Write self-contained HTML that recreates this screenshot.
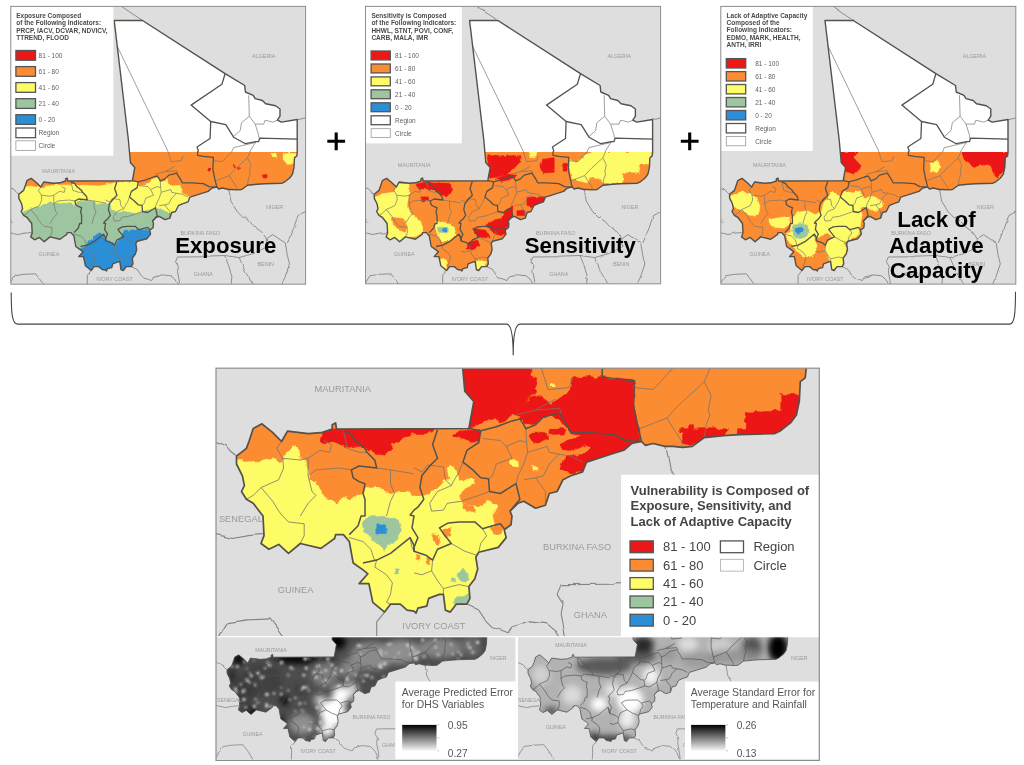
<!DOCTYPE html><html><head><meta charset="utf-8"><title>Vulnerability</title>
<style>html,body{margin:0;padding:0;background:#fff}svg{display:block;font-family:"Liberation Sans", Arial, sans-serif;filter:blur(0.4px)}</style></head><body>
<svg width="1024" height="765" viewBox="0 0 1024 765">
<defs><linearGradient id="bw" x1="0" y1="0" x2="0" y2="1"><stop offset="0" stop-color="#000"/><stop offset="1" stop-color="#fff"/></linearGradient></defs>
<defs><filter id="rag1" x="-5%" y="-5%" width="110%" height="110%"><feTurbulence type="fractalNoise" baseFrequency="0.22" numOctaves="2" seed="3" result="n"/><feDisplacementMap in="SourceGraphic" in2="n" scale="3.2" xChannelSelector="R" yChannelSelector="G"/></filter>
<filter id="rag2" x="-5%" y="-5%" width="110%" height="110%"><feTurbulence type="fractalNoise" baseFrequency="0.13" numOctaves="2" seed="7" result="n"/><feDisplacementMap in="SourceGraphic" in2="n" scale="6" xChannelSelector="R" yChannelSelector="G"/></filter></defs>
<defs><filter id="rag1n" x="-5%" y="-5%" width="110%" height="110%"><feTurbulence type="fractalNoise" baseFrequency="0.16" numOctaves="1" seed="11" result="n"/><feDisplacementMap in="SourceGraphic" in2="n" scale="2.6" xChannelSelector="R" yChannelSelector="G"/></filter>
<filter id="rag2n" x="-5%" y="-5%" width="110%" height="110%"><feTurbulence type="fractalNoise" baseFrequency="0.075" numOctaves="1" seed="13" result="n"/><feDisplacementMap in="SourceGraphic" in2="n" scale="5" xChannelSelector="R" yChannelSelector="G"/></filter></defs>
<rect width="1024" height="765" fill="#fff"/>
<clipPath id="ft0"><rect x="10.8" y="6.4" width="294.8" height="277.8"/></clipPath>
<clipPath id="mt0"><polygon points="132.4,180.7 134.8,167.5 130.4,162.5 128.4,140.0 114.2,20.5 142.5,20.5 225.1,73.7 244.7,85.5 245.4,92.0 253.2,95.3 255.2,98.6 262.4,100.5 265.7,103.8 275.5,105.8 280.0,109.0 280.0,116.2 277.4,120.2 281.4,122.1 297.2,119.5 297.2,150.0 297.3,151.3 296.8,155.9 294.5,157.8 294.0,167.4 292.5,174.1 289.7,178.0 284.9,181.8 282.0,183.2 264.7,183.7 257.0,184.2 247.5,185.2 241.7,189.5 236.9,189.9 232.1,189.5 228.3,189.5 222.5,188.0 218.7,189.0 216.8,187.1 212.0,188.0 208.1,191.4 203.4,192.8 189.9,197.1 188.0,201.9 182.3,203.8 178.4,205.7 175.5,211.5 171.7,212.5 169.8,218.2 165.0,219.7 159.2,216.3 156.4,217.3 152.5,221.1 153.5,223.5 153.0,227.8 149.7,230.2 150.6,234.1 146.8,238.8 137.2,241.2 135.8,243.6 136.7,249.4 135.3,254.2 132.4,258.0 132.9,263.8 131.4,266.6 126.2,266.6 123.3,270.5 120.9,269.5 119.9,261.8 118.0,261.8 112.7,263.8 111.8,267.6 107.5,268.6 106.5,271.0 105.6,270.0 102.2,269.5 98.9,266.6 94.1,266.6 91.2,270.5 85.4,265.7 83.5,256.6 78.7,256.6 83.0,251.8 80.6,249.9 75.8,246.5 73.9,236.0 71.0,232.6 67.2,232.6 66.7,234.5 60.0,239.3 50.0,236.9 44.2,241.7 39.4,237.4 34.6,239.8 30.7,236.9 32.2,233.1 31.7,223.5 26.9,217.3 23.6,215.3 21.2,211.5 22.6,208.6 21.6,203.8 18.8,198.1 18.8,194.3 23.6,190.4 25.0,186.6 26.9,180.7 31.2,178.4 36.5,182.8 40.8,187.1 43.7,182.0 53.8,183.2 60.0,182.8 65.6,181.0 65.6,178.9 67.2,178.0 67.7,181.0"/></clipPath>
<g clip-path="url(#ft0)">
<rect x="10.8" y="6.4" width="294.8" height="277.8" fill="#dedede"/>
<polygon points="132.4,180.7 134.8,167.5 130.4,162.5 128.4,140.0 114.2,20.5 142.5,20.5 225.1,73.7 244.7,85.5 245.4,92.0 253.2,95.3 255.2,98.6 262.4,100.5 265.7,103.8 275.5,105.8 280.0,109.0 280.0,116.2 277.4,120.2 281.4,122.1 297.2,119.5 297.2,150.0 297.3,151.3 296.8,155.9 294.5,157.8 294.0,167.4 292.5,174.1 289.7,178.0 284.9,181.8 282.0,183.2 264.7,183.7 257.0,184.2 247.5,185.2 241.7,189.5 236.9,189.9 232.1,189.5 228.3,189.5 222.5,188.0 218.7,189.0 216.8,187.1 212.0,188.0 208.1,191.4 203.4,192.8 189.9,197.1 188.0,201.9 182.3,203.8 178.4,205.7 175.5,211.5 171.7,212.5 169.8,218.2 165.0,219.7 159.2,216.3 156.4,217.3 152.5,221.1 153.5,223.5 153.0,227.8 149.7,230.2 150.6,234.1 146.8,238.8 137.2,241.2 135.8,243.6 136.7,249.4 135.3,254.2 132.4,258.0 132.9,263.8 131.4,266.6 126.2,266.6 123.3,270.5 120.9,269.5 119.9,261.8 118.0,261.8 112.7,263.8 111.8,267.6 107.5,268.6 106.5,271.0 105.6,270.0 102.2,269.5 98.9,266.6 94.1,266.6 91.2,270.5 85.4,265.7 83.5,256.6 78.7,256.6 83.0,251.8 80.6,249.9 75.8,246.5 73.9,236.0 71.0,232.6 67.2,232.6 66.7,234.5 60.0,239.3 50.0,236.9 44.2,241.7 39.4,237.4 34.6,239.8 30.7,236.9 32.2,233.1 31.7,223.5 26.9,217.3 23.6,215.3 21.2,211.5 22.6,208.6 21.6,203.8 18.8,198.1 18.8,194.3 23.6,190.4 25.0,186.6 26.9,180.7 31.2,178.4 36.5,182.8 40.8,187.1 43.7,182.0 53.8,183.2 60.0,182.8 65.6,181.0 65.6,178.9 67.2,178.0 67.7,181.0" fill="#fff" />
<clipPath id="ct0"><rect x="10.8" y="152.0" width="294.8" height="132.2"/></clipPath>
<g clip-path="url(#ct0)"><g clip-path="url(#mt0)">
<rect x="10.8" y="152.0" width="294.8" height="132.2" fill="#fb8c33"/>
<g filter="url(#rag1)">
<rect x="-9.2" y="132.0" width="334.8" height="172.2" fill="#fb8c33"/>
<polygon points="10.0,192.0 18.0,190.0 24.0,187.0 31.0,186.0 40.0,188.0 48.0,186.0 56.0,185.0 66.0,185.0 80.0,185.0 100.0,186.0 110.0,184.0 117.0,182.2 132.0,181.5 138.2,182.2 139.2,186.1 146.1,185.1 151.0,181.2 154.9,177.3 158.8,179.2 160.8,183.1 166.7,179.2 168.6,183.1 172.5,186.1 178.4,185.1 182.4,188.0 181.4,192.9 188.2,195.9 195.0,199.0 200.0,300.0 -0.0,300.0 -0.0,190.0" fill="#fdfb66" stroke="#fdfb66" stroke-width="0.5"/>
<polygon points="10.0,214.0 22.7,213.1 29.6,209.2 39.4,206.3 49.2,202.8 59.0,203.3 68.8,203.3 74.7,205.3 78.6,201.4 93.3,201.4 98.2,203.8 110.0,203.3 110.9,209.5 117.2,212.6 125.5,211.6 136.0,213.7 146.4,210.5 156.9,208.5 165.3,210.5 170.5,213.7 180.0,214.0 200.0,300.0 -0.0,300.0 -0.0,190.0" fill="#9dc59f" stroke="#9dc59f" stroke-width="0.5"/>
<polygon points="78.0,250.0 83.7,247.2 92.0,238.8 98.3,232.5 103.6,236.7 108.8,240.9 116.1,244.0 121.3,236.7 125.5,230.4 136.0,229.4 149.6,230.4 160.0,228.0 200.0,300.0 60.0,300.0" fill="#2c8fd6" stroke="#2c8fd6" stroke-width="0.5"/>
<polygon points="283.2,153.4 297.4,153.4 297.4,157.2 293.6,163.5 287.4,164.5 283.2,159.3" fill="#fdfb66" stroke="#fdfb66" stroke-width="0.5"/>
<polygon points="270.6,153.4 275.9,153.4 276.9,158.2 273.8,157.2" fill="#fdfb66" stroke="#fdfb66" stroke-width="0.5"/>
<polygon points="262.3,175.0 266.4,174.4 267.5,177.7 263.3,178.1" fill="#ec1717" stroke="#ec1717" stroke-width="0.5"/>
<polygon points="233.0,165.6 235.1,165.6 235.1,167.7 233.0,167.7" fill="#ec1717" stroke="#ec1717" stroke-width="0.5"/>
<polygon points="206.8,168.7 210.0,168.3 210.0,170.2 206.8,170.6" fill="#ec1717" stroke="#ec1717" stroke-width="0.5"/>
<polygon points="237.8,167.7 240.3,167.7 240.3,169.3 237.8,169.3" fill="#ec1717" stroke="#ec1717" stroke-width="0.5"/>
</g></g></g>
<g filter="url(#rag1n)">
<polyline points="4.9,183.7 8.7,187.1 13.5,189.0 16.4,192.3 18.8,194.3" fill="none" stroke="#858585" stroke-width="0.9" stroke-linejoin="round" />
<polyline points="2.0,232.6 8.7,232.6 13.5,233.6 17.3,234.5 24.0,233.1 31.7,232.6" fill="none" stroke="#858585" stroke-width="0.9" stroke-linejoin="round" />
<polyline points="3.9,292.5 10.6,282.0 14.5,275.8 24.0,274.3 35.6,273.8 41.8,282.0 48.0,292.5" fill="none" stroke="#858585" stroke-width="0.9" stroke-linejoin="round" />
<polyline points="86.9,292.5 87.3,282.0 87.3,275.3 91.2,270.5" fill="none" stroke="#858585" stroke-width="0.9" stroke-linejoin="round" />
<polyline points="131.4,266.6 137.2,269.5 141.0,275.3 143.9,278.2 147.8,279.1 151.6,280.6 153.5,277.2 162.1,274.8 170.7,275.8 174.6,279.1 176.5,282.0 179.9,289.7" fill="none" stroke="#858585" stroke-width="0.9" stroke-linejoin="round" />
<polyline points="180.3,290.6 179.4,282.0 177.5,271.4 178.4,266.6 175.5,261.8 177.5,257.0 203.4,256.8" fill="none" stroke="#858585" stroke-width="0.9" stroke-linejoin="round" />
<polyline points="228.8,189.6 230.9,201.1 237.2,211.6 243.4,217.9 245.5,216.8 253.9,226.2 262.3,232.5 266.4,238.8" fill="none" stroke="#858585" stroke-width="0.9" stroke-linejoin="round" />
<polyline points="266.4,238.8 272.7,234.6 285.3,243.0 287.4,255.5 289.5,263.9 285.3,276.4 281.1,285.9" fill="none" stroke="#858585" stroke-width="0.9" stroke-linejoin="round" />
<polyline points="307.2,210.5 297.8,215.8 293.6,228.3 287.4,243.0" fill="none" stroke="#858585" stroke-width="0.9" stroke-linejoin="round" />
<polyline points="266.4,238.8 266.4,247.2 253.9,253.4 239.2,257.6" fill="none" stroke="#858585" stroke-width="0.9" stroke-linejoin="round" />
<polyline points="203.3,256.2 224.6,255.5 239.2,257.6 245.5,272.3 253.9,285.9" fill="none" stroke="#858585" stroke-width="0.9" stroke-linejoin="round" />
<polyline points="224.6,255.5 228.8,266.0 231.9,276.4 230.9,285.9" fill="none" stroke="#858585" stroke-width="0.9" stroke-linejoin="round" />
<polyline points="121.6,6.5 142.5,20.5" fill="none" stroke="#858585" stroke-width="0.9" stroke-linejoin="round" />
<polyline points="297.4,119.7 307.1,117.6" fill="none" stroke="#858585" stroke-width="0.9" stroke-linejoin="round" />
</g>
<polyline points="40.8,187.1 38.4,190.4 41.3,195.2 41.8,200.0 39.4,205.7 30.8,209.6 26.9,213.4 23.6,215.3" fill="none" stroke="#77756f" stroke-width="0.7" stroke-linejoin="round" />
<polyline points="30.8,209.6 36.5,216.3 39.4,221.1 41.3,223.5" fill="none" stroke="#77756f" stroke-width="0.7" stroke-linejoin="round" />
<polyline points="41.3,195.2 50.0,196.2 53.8,195.2 59.5,191.4 64.3,192.3 65.3,188.5 61.4,186.6" fill="none" stroke="#77756f" stroke-width="0.7" stroke-linejoin="round" />
<polyline points="53.8,195.2 53.8,203.8 57.6,201.0 69.1,200.0 74.9,201.0" fill="none" stroke="#77756f" stroke-width="0.7" stroke-linejoin="round" />
<polyline points="53.8,203.8 55.7,211.5 57.6,213.4 53.8,217.3 50.0,223.5" fill="none" stroke="#77756f" stroke-width="0.7" stroke-linejoin="round" />
<polyline points="87.3,200.0 94.1,201.0 105.6,202.9" fill="none" stroke="#77756f" stroke-width="0.7" stroke-linejoin="round" />
<polyline points="94.1,201.0 94.1,207.7 96.0,212.5 94.1,216.3 92.1,223.5" fill="none" stroke="#77756f" stroke-width="0.7" stroke-linejoin="round" />
<polyline points="71.0,181.8 72.9,190.4 78.7,192.3 82.5,192.3" fill="none" stroke="#77756f" stroke-width="0.7" stroke-linejoin="round" />
<polyline points="41.3,223.5 44.2,226.4 51.9,227.3 51.9,233.1 50.0,236.9" fill="none" stroke="#77756f" stroke-width="0.7" stroke-linejoin="round" />
<polyline points="73.9,234.1 80.6,236.0 84.5,239.8 86.4,245.5" fill="none" stroke="#77756f" stroke-width="0.7" stroke-linejoin="round" />
<polyline points="87.3,245.1 86.4,248.4 92.1,252.2 95.0,256.1 94.1,261.8 92.1,265.7 94.1,266.6" fill="none" stroke="#77756f" stroke-width="0.7" stroke-linejoin="round" />
<polyline points="103.6,234.1 104.6,238.8 105.6,240.8" fill="none" stroke="#77756f" stroke-width="0.7" stroke-linejoin="round" />
<polyline points="105.6,251.3 109.4,252.2 114.2,250.3 114.6,245.1" fill="none" stroke="#77756f" stroke-width="0.7" stroke-linejoin="round" />
<polyline points="114.2,250.3 117.0,255.1 119.9,258.9 119.9,261.8" fill="none" stroke="#77756f" stroke-width="0.7" stroke-linejoin="round" />
<polyline points="119.9,258.9 127.6,257.0 132.4,258.0" fill="none" stroke="#77756f" stroke-width="0.7" stroke-linejoin="round" />
<polyline points="123.8,236.9 130.5,240.8 136.2,242.7" fill="none" stroke="#77756f" stroke-width="0.7" stroke-linejoin="round" />
<polyline points="139.1,229.7 141.0,233.1 138.2,236.9 137.2,241.2" fill="none" stroke="#77756f" stroke-width="0.7" stroke-linejoin="round" />
<polyline points="105.6,200.0 109.4,201.9 112.3,198.6 119.9,199.5 120.9,205.7 123.8,208.6" fill="none" stroke="#77756f" stroke-width="0.7" stroke-linejoin="round" />
<polyline points="129.5,197.1 127.6,201.9 124.7,206.7 123.8,208.6 117.0,211.5 113.2,217.3 114.2,221.1 119.9,220.6 121.8,217.3 128.6,216.3 137.2,213.4 142.5,211.5" fill="none" stroke="#77756f" stroke-width="0.7" stroke-linejoin="round" />
<polyline points="139.1,185.6 147.8,186.6 150.6,189.5 157.3,186.6 160.7,187.6 160.2,180.8" fill="none" stroke="#77756f" stroke-width="0.7" stroke-linejoin="round" />
<polyline points="150.6,189.5 153.5,195.2 145.8,198.1 143.9,203.8 142.0,205.3" fill="none" stroke="#77756f" stroke-width="0.7" stroke-linejoin="round" />
<polyline points="160.7,187.6 161.2,192.3 159.2,198.1 156.4,203.8 155.4,207.7" fill="none" stroke="#77756f" stroke-width="0.7" stroke-linejoin="round" />
<polyline points="161.2,192.3 170.7,189.5 171.7,192.3 176.5,193.3 171.7,198.1 168.8,203.8 165.0,204.8 166.9,207.7 169.8,211.5 169.8,218.2" fill="none" stroke="#77756f" stroke-width="0.7" stroke-linejoin="round" />
<polyline points="159.2,205.7 165.0,204.8" fill="none" stroke="#77756f" stroke-width="0.7" stroke-linejoin="round" />
<polyline points="176.5,193.3 182.3,194.3 188.0,197.1" fill="none" stroke="#77756f" stroke-width="0.7" stroke-linejoin="round" />
<polyline points="165.0,171.7 176.5,170.8 177.5,172.7 176.5,173.2" fill="none" stroke="#77756f" stroke-width="0.7" stroke-linejoin="round" />
<polyline points="155.4,174.1 165.0,171.7 174.6,166.4" fill="none" stroke="#77756f" stroke-width="0.7" stroke-linejoin="round" />
<polyline points="167.9,151.3 171.1,161.7 181.3,160.7 183.2,155.9" fill="none" stroke="#77756f" stroke-width="0.7" stroke-linejoin="round" />
<polyline points="215.8,180.8 229.2,175.6 235.0,169.3 247.5,157.8 250.3,151.3" fill="none" stroke="#77756f" stroke-width="0.7" stroke-linejoin="round" />
<polyline points="213.4,160.7 222.5,161.6 232.1,151.3" fill="none" stroke="#77756f" stroke-width="0.7" stroke-linejoin="round" />
<polyline points="247.5,157.8 250.8,164.5 249.4,172.2 250.3,174.1 248.4,178.9 247.5,185.2" fill="none" stroke="#77756f" stroke-width="0.7" stroke-linejoin="round" />
<polyline points="229.2,175.6 233.1,181.8 236.9,187.6 236.4,189.9" fill="none" stroke="#77756f" stroke-width="0.7" stroke-linejoin="round" />
<polyline points="117.3,46.4 167.9,151.2" fill="none" stroke="#77756f" stroke-width="0.7" stroke-linejoin="round" />
<polyline points="248.7,95.3 249.3,116.2 241.5,122.8 240.2,130.6 233.6,136.5" fill="none" stroke="#77756f" stroke-width="0.7" stroke-linejoin="round" />
<polyline points="249.3,116.2 255.2,124.1 263.7,124.1 265.0,120.2 272.9,122.1 277.4,120.2" fill="none" stroke="#77756f" stroke-width="0.7" stroke-linejoin="round" />
<polyline points="255.2,124.1 258.5,134.5 259.1,138.5" fill="none" stroke="#77756f" stroke-width="0.7" stroke-linejoin="round" />
<polyline points="255.9,141.7 250.6,150.2 249.7,151.7" fill="none" stroke="#77756f" stroke-width="0.7" stroke-linejoin="round" />
<polyline points="255.9,142.4 233.6,147.6 231.7,151.7" fill="none" stroke="#77756f" stroke-width="0.7" stroke-linejoin="round" />
<polyline points="71.0,181.8 74.9,183.7 76.8,186.6 81.6,190.4 82.5,192.3 86.4,196.2 87.3,200.0 78.7,199.0 74.9,201.0 75.8,204.8 78.7,206.7 81.6,207.7 80.6,212.5 81.6,215.3 81.6,223.5 79.7,223.5 78.2,228.3 73.9,232.6" fill="none" stroke="#55524c" stroke-width="1.3" stroke-linejoin="round" />
<polyline points="117.0,181.3 114.6,188.5 117.0,195.2 113.2,199.0 109.4,203.8 108.4,209.6 110.3,215.3 107.5,219.2 105.6,220.6 103.6,223.0 105.6,223.5 104.6,229.3 107.5,234.1 105.6,238.8 105.6,240.8" fill="none" stroke="#55524c" stroke-width="1.3" stroke-linejoin="round" />
<polyline points="80.6,246.5 87.3,245.1 94.1,241.7 103.6,234.1 105.6,237.9 105.6,240.8 111.3,242.7 114.6,245.1 117.0,239.8 123.8,236.9 119.9,232.1 118.0,229.3 122.3,226.9 127.6,226.4 135.3,226.4 139.1,229.7 143.9,228.3 147.8,227.3 150.2,230.2" fill="none" stroke="#55524c" stroke-width="1.3" stroke-linejoin="round" />
<polyline points="138.2,181.8 137.2,187.6 131.4,191.4 129.5,197.1 134.3,201.0 138.2,204.8 142.0,205.3 142.5,211.5 147.8,212.5 155.4,207.7 157.3,215.3 152.5,221.1" fill="none" stroke="#55524c" stroke-width="1.3" stroke-linejoin="round" />
<polyline points="132.6,180.7 138.2,181.8 145.8,179.9 153.5,177.0 157.3,176.0 159.2,178.9 160.2,180.8 165.0,178.9 168.8,175.1 172.7,174.1 176.5,173.2 180.3,178.9 182.3,182.8 191.9,182.8 203.4,183.7 209.1,186.6 216.8,187.1" fill="none" stroke="#55524c" stroke-width="1.3" stroke-linejoin="round" />
<polyline points="216.8,187.1 214.8,178.9 212.9,169.3 213.4,157.3 203.4,156.4 197.6,155.4 197.6,151.3" fill="none" stroke="#55524c" stroke-width="1.3" stroke-linejoin="round" />
<polyline points="225.1,73.7 221.9,84.2 191.1,105.1 210.7,121.5 225.8,124.7 233.6,137.2 245.4,143.7 255.9,141.7 258.5,141.7 259.8,138.2 297.1,139.1" fill="none" stroke="#55524c" stroke-width="1.3" stroke-linejoin="round" />
<polyline points="210.7,121.5 210.1,138.5 197.0,147.0 198.6,151.6" fill="none" stroke="#55524c" stroke-width="1.3" stroke-linejoin="round" />
<polygon points="132.4,180.7 134.8,167.5 130.4,162.5 128.4,140.0 114.2,20.5 142.5,20.5 225.1,73.7 244.7,85.5 245.4,92.0 253.2,95.3 255.2,98.6 262.4,100.5 265.7,103.8 275.5,105.8 280.0,109.0 280.0,116.2 277.4,120.2 281.4,122.1 297.2,119.5 297.2,150.0 297.3,151.3 296.8,155.9 294.5,157.8 294.0,167.4 292.5,174.1 289.7,178.0 284.9,181.8 282.0,183.2 264.7,183.7 257.0,184.2 247.5,185.2 241.7,189.5 236.9,189.9 232.1,189.5 228.3,189.5 222.5,188.0 218.7,189.0 216.8,187.1 212.0,188.0 208.1,191.4 203.4,192.8 189.9,197.1 188.0,201.9 182.3,203.8 178.4,205.7 175.5,211.5 171.7,212.5 169.8,218.2 165.0,219.7 159.2,216.3 156.4,217.3 152.5,221.1 153.5,223.5 153.0,227.8 149.7,230.2 150.6,234.1 146.8,238.8 137.2,241.2 135.8,243.6 136.7,249.4 135.3,254.2 132.4,258.0 132.9,263.8 131.4,266.6 126.2,266.6 123.3,270.5 120.9,269.5 119.9,261.8 118.0,261.8 112.7,263.8 111.8,267.6 107.5,268.6 106.5,271.0 105.6,270.0 102.2,269.5 98.9,266.6 94.1,266.6 91.2,270.5 85.4,265.7 83.5,256.6 78.7,256.6 83.0,251.8 80.6,249.9 75.8,246.5 73.9,236.0 71.0,232.6 67.2,232.6 66.7,234.5 60.0,239.3 50.0,236.9 44.2,241.7 39.4,237.4 34.6,239.8 30.7,236.9 32.2,233.1 31.7,223.5 26.9,217.3 23.6,215.3 21.2,211.5 22.6,208.6 21.6,203.8 18.8,198.1 18.8,194.3 23.6,190.4 25.0,186.6 26.9,180.7 31.2,178.4 36.5,182.8 40.8,187.1 43.7,182.0 53.8,183.2 60.0,182.8 65.6,181.0 65.6,178.9 67.2,178.0 67.7,181.0" fill="none" stroke="#555049" stroke-width="1.4" stroke-linejoin="round"/>
</g>
<g clip-path="url(#ft0)">
<text x="42.3" y="173.0" font-size="5.4" fill="#9a9a9a" font-weight="normal" text-anchor="start" >MAURITANIA</text>
<text x="252.0" y="57.5" font-size="5.4" fill="#9a9a9a" font-weight="normal" text-anchor="start" >ALGERIA</text>
<text x="266.0" y="208.7" font-size="5.4" fill="#9a9a9a" font-weight="normal" text-anchor="start" >NIGER</text>
<text x="180.5" y="234.6" font-size="5.4" fill="#9a9a9a" font-weight="normal" text-anchor="start" >BURKINA FASO</text>
<text x="38.6" y="256.3" font-size="5.4" fill="#9a9a9a" font-weight="normal" text-anchor="start" >GUINEA</text>
<text x="96.2" y="280.6" font-size="5.4" fill="#9a9a9a" font-weight="normal" text-anchor="start" >IVORY COAST</text>
<text x="193.8" y="276.2" font-size="5.4" fill="#9a9a9a" font-weight="normal" text-anchor="start" >GHANA</text>
<text x="257.5" y="265.5" font-size="5.4" fill="#9a9a9a" font-weight="normal" text-anchor="start" >BENIN</text>
<text x="-12.0" y="223.0" font-size="5.4" fill="#9a9a9a" font-weight="normal" text-anchor="start" >SENEGAL</text>
</g>
<rect x="10.8" y="6.4" width="102.6" height="149.4" fill="#fff"/>
<rect x="10.8" y="6.4" width="294.8" height="277.8" fill="none" stroke="#8c8c8c" stroke-width="1"/>
<clipPath id="ft1"><rect x="365.5" y="6.4" width="295.1" height="277.4"/></clipPath>
<clipPath id="mt1"><polygon points="487.8,180.7 490.2,167.5 485.8,162.5 483.8,140.0 469.6,20.5 497.9,20.5 580.5,73.7 600.1,85.5 600.8,92.0 608.6,95.3 610.6,98.6 617.8,100.5 621.1,103.8 630.9,105.8 635.4,109.0 635.4,116.2 632.8,120.2 636.8,122.1 652.6,119.5 652.6,150.0 652.7,151.3 652.2,155.9 649.9,157.8 649.4,167.4 647.9,174.1 645.1,178.0 640.3,181.8 637.4,183.2 620.1,183.7 612.4,184.2 602.9,185.2 597.1,189.5 592.3,189.9 587.5,189.5 583.7,189.5 577.9,188.0 574.1,189.0 572.2,187.1 567.4,188.0 563.5,191.4 558.8,192.8 545.3,197.1 543.4,201.9 537.7,203.8 533.8,205.7 530.9,211.5 527.1,212.5 525.2,218.2 520.4,219.7 514.6,216.3 511.8,217.3 507.9,221.1 508.9,223.5 508.4,227.8 505.1,230.2 506.0,234.1 502.2,238.8 492.6,241.2 491.2,243.6 492.1,249.4 490.7,254.2 487.8,258.0 488.3,263.8 486.8,266.6 481.6,266.6 478.7,270.5 476.3,269.5 475.3,261.8 473.4,261.8 468.1,263.8 467.2,267.6 462.9,268.6 461.9,271.0 461.0,270.0 457.6,269.5 454.3,266.6 449.5,266.6 446.6,270.5 440.8,265.7 438.9,256.6 434.1,256.6 438.4,251.8 436.0,249.9 431.2,246.5 429.3,236.0 426.4,232.6 422.6,232.6 422.1,234.5 415.4,239.3 405.4,236.9 399.6,241.7 394.8,237.4 390.0,239.8 386.1,236.9 387.6,233.1 387.1,223.5 382.3,217.3 379.0,215.3 376.6,211.5 378.0,208.6 377.0,203.8 374.2,198.1 374.2,194.3 379.0,190.4 380.4,186.6 382.3,180.7 386.6,178.4 391.9,182.8 396.2,187.1 399.1,182.0 409.2,183.2 415.4,182.8 421.0,181.0 421.0,178.9 422.6,178.0 423.1,181.0"/></clipPath>
<g clip-path="url(#ft1)">
<rect x="365.5" y="6.4" width="295.1" height="277.4" fill="#dedede"/>
<polygon points="487.8,180.7 490.2,167.5 485.8,162.5 483.8,140.0 469.6,20.5 497.9,20.5 580.5,73.7 600.1,85.5 600.8,92.0 608.6,95.3 610.6,98.6 617.8,100.5 621.1,103.8 630.9,105.8 635.4,109.0 635.4,116.2 632.8,120.2 636.8,122.1 652.6,119.5 652.6,150.0 652.7,151.3 652.2,155.9 649.9,157.8 649.4,167.4 647.9,174.1 645.1,178.0 640.3,181.8 637.4,183.2 620.1,183.7 612.4,184.2 602.9,185.2 597.1,189.5 592.3,189.9 587.5,189.5 583.7,189.5 577.9,188.0 574.1,189.0 572.2,187.1 567.4,188.0 563.5,191.4 558.8,192.8 545.3,197.1 543.4,201.9 537.7,203.8 533.8,205.7 530.9,211.5 527.1,212.5 525.2,218.2 520.4,219.7 514.6,216.3 511.8,217.3 507.9,221.1 508.9,223.5 508.4,227.8 505.1,230.2 506.0,234.1 502.2,238.8 492.6,241.2 491.2,243.6 492.1,249.4 490.7,254.2 487.8,258.0 488.3,263.8 486.8,266.6 481.6,266.6 478.7,270.5 476.3,269.5 475.3,261.8 473.4,261.8 468.1,263.8 467.2,267.6 462.9,268.6 461.9,271.0 461.0,270.0 457.6,269.5 454.3,266.6 449.5,266.6 446.6,270.5 440.8,265.7 438.9,256.6 434.1,256.6 438.4,251.8 436.0,249.9 431.2,246.5 429.3,236.0 426.4,232.6 422.6,232.6 422.1,234.5 415.4,239.3 405.4,236.9 399.6,241.7 394.8,237.4 390.0,239.8 386.1,236.9 387.6,233.1 387.1,223.5 382.3,217.3 379.0,215.3 376.6,211.5 378.0,208.6 377.0,203.8 374.2,198.1 374.2,194.3 379.0,190.4 380.4,186.6 382.3,180.7 386.6,178.4 391.9,182.8 396.2,187.1 399.1,182.0 409.2,183.2 415.4,182.8 421.0,181.0 421.0,178.9 422.6,178.0 423.1,181.0" fill="#fff" />
<clipPath id="ct1"><rect x="365.5" y="152.0" width="295.1" height="131.8"/></clipPath>
<g clip-path="url(#ct1)"><g clip-path="url(#mt1)">
<rect x="365.5" y="152.0" width="295.1" height="131.8" fill="#fb8c33"/>
<g filter="url(#rag1)">
<rect x="345.5" y="132.0" width="335.1" height="171.8" fill="#fb8c33"/>
<polygon points="371.8,198.8 376.7,196.9 381.6,193.9 394.3,192.0 397.3,184.1 409.0,184.1 409.0,194.9 407.1,204.7 411.0,214.5 416.9,217.5 422.7,224.3 422.7,232.2 416.9,236.1 407.1,238.0 399.2,243.9 389.4,242.0 383.5,234.1 379.6,218.4 373.7,212.5" fill="#fdfb66" stroke="#fdfb66" stroke-width="0.5"/>
<polygon points="435.5,221.4 446.3,222.4 454.1,227.3 456.1,234.1 450.2,240.0 442.4,242.0 438.4,236.1 435.5,228.2" fill="#fdfb66" stroke="#fdfb66" stroke-width="0.5"/>
<polygon points="474.7,261.6 485.5,260.6 486.5,271.4 475.7,271.4" fill="#fdfb66" stroke="#fdfb66" stroke-width="0.5"/>
<polygon points="439.4,259.6 446.3,259.6 446.3,269.4 440.4,267.5" fill="#fdfb66" stroke="#fdfb66" stroke-width="0.5"/>
<polygon points="569.0,159.4 576.9,162.4 585.7,154.5 592.5,152.0 652.4,152.0 651.4,164.3 639.6,164.3 639.6,172.2 622.9,172.2 622.9,182.9 603.3,182.9 599.4,179.0 589.6,177.1 587.6,182.9 579.8,181.0 572.0,179.0 570.0,169.2" fill="#fdfb66" stroke="#fdfb66" stroke-width="0.5"/>
<polygon points="528.8,152.0 536.7,152.0 535.7,157.5 529.8,157.5" fill="#fdfb66" stroke="#fdfb66" stroke-width="0.5"/>
<polygon points="392.4,217.5 403.1,218.4 407.1,226.3 405.1,232.2 399.2,230.2 393.3,224.3" fill="#fb8c33" stroke="#fb8c33" stroke-width="0.5"/>
<polygon points="487.5,155.7 520.8,155.7 520.8,161.6 512.9,169.4 505.1,175.3 489.4,178.2 488.4,169.4" fill="#ec1717" stroke="#ec1717" stroke-width="0.5"/>
<polygon points="541.6,159.4 554.3,157.5 554.3,172.2 544.5,173.1 539.6,167.3" fill="#ec1717" stroke="#ec1717" stroke-width="0.5"/>
<polygon points="414.9,184.1 424.7,182.2 434.5,183.1 450.2,183.1 452.2,191.0 446.3,196.9 438.4,192.9 430.6,189.0 418.8,189.0" fill="#ec1717" stroke="#ec1717" stroke-width="0.5"/>
<polygon points="420.8,196.9 428.6,196.9 428.6,200.8 420.8,200.8" fill="#ec1717" stroke="#ec1717" stroke-width="0.5"/>
<polygon points="526.9,197.6 544.5,196.7 545.5,199.6 534.7,207.5 526.9,205.5" fill="#ec1717" stroke="#ec1717" stroke-width="0.5"/>
<polygon points="505.1,210.6 512.9,205.7 512.0,218.4 508.0,226.3 506.1,234.1 497.3,235.1 489.4,229.2 485.5,225.3 493.3,220.4 501.2,218.4" fill="#ec1717" stroke="#ec1717" stroke-width="0.5"/>
<polygon points="472.7,228.2 485.5,230.2 490.4,238.0 477.6,237.1" fill="#ec1717" stroke="#ec1717" stroke-width="0.5"/>
<polygon points="468.8,242.0 477.6,240.0 480.0,245.9 471.8,250.2 465.9,248.2" fill="#ec1717" stroke="#ec1717" stroke-width="0.5"/>
<polygon points="516.9,210.6 524.7,210.6 524.7,215.5 516.9,215.5" fill="#ec1717" stroke="#ec1717" stroke-width="0.5"/>
<polygon points="563.1,163.3 567.1,163.3 567.1,171.2 563.1,171.2" fill="#ec1717" stroke="#ec1717" stroke-width="0.5"/>
<polygon points="495.3,178.2 509.0,174.3 516.9,175.3 512.9,179.2 501.2,181.2" fill="#ec1717" stroke="#ec1717" stroke-width="0.5"/>
<polygon points="437.5,227.3 448.2,227.3 448.2,233.1 438.4,232.2" fill="#9dc59f" stroke="#9dc59f" stroke-width="0.5"/>
<polygon points="442.4,228.2 446.7,228.2 446.7,231.8 442.4,231.8" fill="#2c8fd6" stroke="#2c8fd6" stroke-width="0.5"/>
</g></g></g>
<g filter="url(#rag1n)">
<polyline points="360.3,183.7 364.1,187.1 368.9,189.0 371.8,192.3 374.2,194.3" fill="none" stroke="#858585" stroke-width="0.9" stroke-linejoin="round" />
<polyline points="357.4,232.6 364.1,232.6 368.9,233.6 372.7,234.5 379.4,233.1 387.1,232.6" fill="none" stroke="#858585" stroke-width="0.9" stroke-linejoin="round" />
<polyline points="359.3,292.5 366.0,282.0 369.9,275.8 379.4,274.3 391.0,273.8 397.2,282.0 403.4,292.5" fill="none" stroke="#858585" stroke-width="0.9" stroke-linejoin="round" />
<polyline points="442.3,292.5 442.7,282.0 442.7,275.3 446.6,270.5" fill="none" stroke="#858585" stroke-width="0.9" stroke-linejoin="round" />
<polyline points="486.8,266.6 492.6,269.5 496.4,275.3 499.3,278.2 503.2,279.1 507.0,280.6 508.9,277.2 517.5,274.8 526.1,275.8 530.0,279.1 531.9,282.0 535.3,289.7" fill="none" stroke="#858585" stroke-width="0.9" stroke-linejoin="round" />
<polyline points="535.7,290.6 534.8,282.0 532.9,271.4 533.8,266.6 530.9,261.8 532.9,257.0 558.8,256.8" fill="none" stroke="#858585" stroke-width="0.9" stroke-linejoin="round" />
<polyline points="584.2,189.6 586.3,201.1 592.6,211.6 598.8,217.9 600.9,216.8 609.3,226.2 617.7,232.5 621.8,238.8" fill="none" stroke="#858585" stroke-width="0.9" stroke-linejoin="round" />
<polyline points="621.8,238.8 628.1,234.6 640.7,243.0 642.8,255.5 644.9,263.9 640.7,276.4 636.5,285.9" fill="none" stroke="#858585" stroke-width="0.9" stroke-linejoin="round" />
<polyline points="662.6,210.5 653.2,215.8 649.0,228.3 642.8,243.0" fill="none" stroke="#858585" stroke-width="0.9" stroke-linejoin="round" />
<polyline points="621.8,238.8 621.8,247.2 609.3,253.4 594.6,257.6" fill="none" stroke="#858585" stroke-width="0.9" stroke-linejoin="round" />
<polyline points="558.7,256.2 580.0,255.5 594.6,257.6 600.9,272.3 609.3,285.9" fill="none" stroke="#858585" stroke-width="0.9" stroke-linejoin="round" />
<polyline points="580.0,255.5 584.2,266.0 587.3,276.4 586.3,285.9" fill="none" stroke="#858585" stroke-width="0.9" stroke-linejoin="round" />
<polyline points="477.0,6.5 497.9,20.5" fill="none" stroke="#858585" stroke-width="0.9" stroke-linejoin="round" />
<polyline points="652.8,119.7 662.5,117.6" fill="none" stroke="#858585" stroke-width="0.9" stroke-linejoin="round" />
</g>
<polyline points="396.2,187.1 393.8,190.4 396.7,195.2 397.2,200.0 394.8,205.7 386.2,209.6 382.3,213.4 379.0,215.3" fill="none" stroke="#77756f" stroke-width="0.7" stroke-linejoin="round" />
<polyline points="386.2,209.6 391.9,216.3 394.8,221.1 396.7,223.5" fill="none" stroke="#77756f" stroke-width="0.7" stroke-linejoin="round" />
<polyline points="396.7,195.2 405.4,196.2 409.2,195.2 414.9,191.4 419.7,192.3 420.7,188.5 416.8,186.6" fill="none" stroke="#77756f" stroke-width="0.7" stroke-linejoin="round" />
<polyline points="409.2,195.2 409.2,203.8 413.0,201.0 424.5,200.0 430.3,201.0" fill="none" stroke="#77756f" stroke-width="0.7" stroke-linejoin="round" />
<polyline points="409.2,203.8 411.1,211.5 413.0,213.4 409.2,217.3 405.4,223.5" fill="none" stroke="#77756f" stroke-width="0.7" stroke-linejoin="round" />
<polyline points="442.7,200.0 449.5,201.0 461.0,202.9" fill="none" stroke="#77756f" stroke-width="0.7" stroke-linejoin="round" />
<polyline points="449.5,201.0 449.5,207.7 451.4,212.5 449.5,216.3 447.5,223.5" fill="none" stroke="#77756f" stroke-width="0.7" stroke-linejoin="round" />
<polyline points="426.4,181.8 428.3,190.4 434.1,192.3 437.9,192.3" fill="none" stroke="#77756f" stroke-width="0.7" stroke-linejoin="round" />
<polyline points="396.7,223.5 399.6,226.4 407.3,227.3 407.3,233.1 405.4,236.9" fill="none" stroke="#77756f" stroke-width="0.7" stroke-linejoin="round" />
<polyline points="429.3,234.1 436.0,236.0 439.9,239.8 441.8,245.5" fill="none" stroke="#77756f" stroke-width="0.7" stroke-linejoin="round" />
<polyline points="442.7,245.1 441.8,248.4 447.5,252.2 450.4,256.1 449.5,261.8 447.5,265.7 449.5,266.6" fill="none" stroke="#77756f" stroke-width="0.7" stroke-linejoin="round" />
<polyline points="459.0,234.1 460.0,238.8 461.0,240.8" fill="none" stroke="#77756f" stroke-width="0.7" stroke-linejoin="round" />
<polyline points="461.0,251.3 464.8,252.2 469.6,250.3 470.0,245.1" fill="none" stroke="#77756f" stroke-width="0.7" stroke-linejoin="round" />
<polyline points="469.6,250.3 472.4,255.1 475.3,258.9 475.3,261.8" fill="none" stroke="#77756f" stroke-width="0.7" stroke-linejoin="round" />
<polyline points="475.3,258.9 483.0,257.0 487.8,258.0" fill="none" stroke="#77756f" stroke-width="0.7" stroke-linejoin="round" />
<polyline points="479.2,236.9 485.9,240.8 491.6,242.7" fill="none" stroke="#77756f" stroke-width="0.7" stroke-linejoin="round" />
<polyline points="494.5,229.7 496.4,233.1 493.6,236.9 492.6,241.2" fill="none" stroke="#77756f" stroke-width="0.7" stroke-linejoin="round" />
<polyline points="461.0,200.0 464.8,201.9 467.7,198.6 475.3,199.5 476.3,205.7 479.2,208.6" fill="none" stroke="#77756f" stroke-width="0.7" stroke-linejoin="round" />
<polyline points="484.9,197.1 483.0,201.9 480.1,206.7 479.2,208.6 472.4,211.5 468.6,217.3 469.6,221.1 475.3,220.6 477.2,217.3 484.0,216.3 492.6,213.4 497.9,211.5" fill="none" stroke="#77756f" stroke-width="0.7" stroke-linejoin="round" />
<polyline points="494.5,185.6 503.2,186.6 506.0,189.5 512.7,186.6 516.1,187.6 515.6,180.8" fill="none" stroke="#77756f" stroke-width="0.7" stroke-linejoin="round" />
<polyline points="506.0,189.5 508.9,195.2 501.2,198.1 499.3,203.8 497.4,205.3" fill="none" stroke="#77756f" stroke-width="0.7" stroke-linejoin="round" />
<polyline points="516.1,187.6 516.6,192.3 514.6,198.1 511.8,203.8 510.8,207.7" fill="none" stroke="#77756f" stroke-width="0.7" stroke-linejoin="round" />
<polyline points="516.6,192.3 526.1,189.5 527.1,192.3 531.9,193.3 527.1,198.1 524.2,203.8 520.4,204.8 522.3,207.7 525.2,211.5 525.2,218.2" fill="none" stroke="#77756f" stroke-width="0.7" stroke-linejoin="round" />
<polyline points="514.6,205.7 520.4,204.8" fill="none" stroke="#77756f" stroke-width="0.7" stroke-linejoin="round" />
<polyline points="531.9,193.3 537.7,194.3 543.4,197.1" fill="none" stroke="#77756f" stroke-width="0.7" stroke-linejoin="round" />
<polyline points="520.4,171.7 531.9,170.8 532.9,172.7 531.9,173.2" fill="none" stroke="#77756f" stroke-width="0.7" stroke-linejoin="round" />
<polyline points="510.8,174.1 520.4,171.7 530.0,166.4" fill="none" stroke="#77756f" stroke-width="0.7" stroke-linejoin="round" />
<polyline points="523.3,151.3 526.5,161.7 536.7,160.7 538.6,155.9" fill="none" stroke="#77756f" stroke-width="0.7" stroke-linejoin="round" />
<polyline points="571.2,180.8 584.6,175.6 590.4,169.3 602.9,157.8 605.7,151.3" fill="none" stroke="#77756f" stroke-width="0.7" stroke-linejoin="round" />
<polyline points="568.8,160.7 577.9,161.6 587.5,151.3" fill="none" stroke="#77756f" stroke-width="0.7" stroke-linejoin="round" />
<polyline points="602.9,157.8 606.2,164.5 604.8,172.2 605.7,174.1 603.8,178.9 602.9,185.2" fill="none" stroke="#77756f" stroke-width="0.7" stroke-linejoin="round" />
<polyline points="584.6,175.6 588.5,181.8 592.3,187.6 591.8,189.9" fill="none" stroke="#77756f" stroke-width="0.7" stroke-linejoin="round" />
<polyline points="472.7,46.4 523.3,151.2" fill="none" stroke="#77756f" stroke-width="0.7" stroke-linejoin="round" />
<polyline points="604.1,95.3 604.7,116.2 596.9,122.8 595.6,130.6 589.0,136.5" fill="none" stroke="#77756f" stroke-width="0.7" stroke-linejoin="round" />
<polyline points="604.7,116.2 610.6,124.1 619.1,124.1 620.4,120.2 628.3,122.1 632.8,120.2" fill="none" stroke="#77756f" stroke-width="0.7" stroke-linejoin="round" />
<polyline points="610.6,124.1 613.9,134.5 614.5,138.5" fill="none" stroke="#77756f" stroke-width="0.7" stroke-linejoin="round" />
<polyline points="611.3,141.7 606.0,150.2 605.1,151.7" fill="none" stroke="#77756f" stroke-width="0.7" stroke-linejoin="round" />
<polyline points="611.3,142.4 589.0,147.6 587.1,151.7" fill="none" stroke="#77756f" stroke-width="0.7" stroke-linejoin="round" />
<polyline points="426.4,181.8 430.3,183.7 432.2,186.6 437.0,190.4 437.9,192.3 441.8,196.2 442.7,200.0 434.1,199.0 430.3,201.0 431.2,204.8 434.1,206.7 437.0,207.7 436.0,212.5 437.0,215.3 437.0,223.5 435.1,223.5 433.6,228.3 429.3,232.6" fill="none" stroke="#55524c" stroke-width="1.3" stroke-linejoin="round" />
<polyline points="472.4,181.3 470.0,188.5 472.4,195.2 468.6,199.0 464.8,203.8 463.8,209.6 465.7,215.3 462.9,219.2 461.0,220.6 459.0,223.0 461.0,223.5 460.0,229.3 462.9,234.1 461.0,238.8 461.0,240.8" fill="none" stroke="#55524c" stroke-width="1.3" stroke-linejoin="round" />
<polyline points="436.0,246.5 442.7,245.1 449.5,241.7 459.0,234.1 461.0,237.9 461.0,240.8 466.7,242.7 470.0,245.1 472.4,239.8 479.2,236.9 475.3,232.1 473.4,229.3 477.7,226.9 483.0,226.4 490.7,226.4 494.5,229.7 499.3,228.3 503.2,227.3 505.6,230.2" fill="none" stroke="#55524c" stroke-width="1.3" stroke-linejoin="round" />
<polyline points="493.6,181.8 492.6,187.6 486.8,191.4 484.9,197.1 489.7,201.0 493.6,204.8 497.4,205.3 497.9,211.5 503.2,212.5 510.8,207.7 512.7,215.3 507.9,221.1" fill="none" stroke="#55524c" stroke-width="1.3" stroke-linejoin="round" />
<polyline points="488.0,180.7 493.6,181.8 501.2,179.9 508.9,177.0 512.7,176.0 514.6,178.9 515.6,180.8 520.4,178.9 524.2,175.1 528.1,174.1 531.9,173.2 535.7,178.9 537.7,182.8 547.3,182.8 558.8,183.7 564.5,186.6 572.2,187.1" fill="none" stroke="#55524c" stroke-width="1.3" stroke-linejoin="round" />
<polyline points="572.2,187.1 570.2,178.9 568.3,169.3 568.8,157.3 558.8,156.4 553.0,155.4 553.0,151.3" fill="none" stroke="#55524c" stroke-width="1.3" stroke-linejoin="round" />
<polyline points="580.5,73.7 577.3,84.2 546.5,105.1 566.1,121.5 581.2,124.7 589.0,137.2 600.8,143.7 611.3,141.7 613.9,141.7 615.2,138.2 652.5,139.1" fill="none" stroke="#55524c" stroke-width="1.3" stroke-linejoin="round" />
<polyline points="566.1,121.5 565.5,138.5 552.4,147.0 554.0,151.6" fill="none" stroke="#55524c" stroke-width="1.3" stroke-linejoin="round" />
<polygon points="487.8,180.7 490.2,167.5 485.8,162.5 483.8,140.0 469.6,20.5 497.9,20.5 580.5,73.7 600.1,85.5 600.8,92.0 608.6,95.3 610.6,98.6 617.8,100.5 621.1,103.8 630.9,105.8 635.4,109.0 635.4,116.2 632.8,120.2 636.8,122.1 652.6,119.5 652.6,150.0 652.7,151.3 652.2,155.9 649.9,157.8 649.4,167.4 647.9,174.1 645.1,178.0 640.3,181.8 637.4,183.2 620.1,183.7 612.4,184.2 602.9,185.2 597.1,189.5 592.3,189.9 587.5,189.5 583.7,189.5 577.9,188.0 574.1,189.0 572.2,187.1 567.4,188.0 563.5,191.4 558.8,192.8 545.3,197.1 543.4,201.9 537.7,203.8 533.8,205.7 530.9,211.5 527.1,212.5 525.2,218.2 520.4,219.7 514.6,216.3 511.8,217.3 507.9,221.1 508.9,223.5 508.4,227.8 505.1,230.2 506.0,234.1 502.2,238.8 492.6,241.2 491.2,243.6 492.1,249.4 490.7,254.2 487.8,258.0 488.3,263.8 486.8,266.6 481.6,266.6 478.7,270.5 476.3,269.5 475.3,261.8 473.4,261.8 468.1,263.8 467.2,267.6 462.9,268.6 461.9,271.0 461.0,270.0 457.6,269.5 454.3,266.6 449.5,266.6 446.6,270.5 440.8,265.7 438.9,256.6 434.1,256.6 438.4,251.8 436.0,249.9 431.2,246.5 429.3,236.0 426.4,232.6 422.6,232.6 422.1,234.5 415.4,239.3 405.4,236.9 399.6,241.7 394.8,237.4 390.0,239.8 386.1,236.9 387.6,233.1 387.1,223.5 382.3,217.3 379.0,215.3 376.6,211.5 378.0,208.6 377.0,203.8 374.2,198.1 374.2,194.3 379.0,190.4 380.4,186.6 382.3,180.7 386.6,178.4 391.9,182.8 396.2,187.1 399.1,182.0 409.2,183.2 415.4,182.8 421.0,181.0 421.0,178.9 422.6,178.0 423.1,181.0" fill="none" stroke="#555049" stroke-width="1.4" stroke-linejoin="round"/>
</g>
<g clip-path="url(#ft1)">
<text x="397.7" y="167.2" font-size="5.4" fill="#9a9a9a" font-weight="normal" text-anchor="start" >MAURITANIA</text>
<text x="607.4" y="57.5" font-size="5.4" fill="#9a9a9a" font-weight="normal" text-anchor="start" >ALGERIA</text>
<text x="621.4" y="208.7" font-size="5.4" fill="#9a9a9a" font-weight="normal" text-anchor="start" >NIGER</text>
<text x="535.9" y="234.6" font-size="5.4" fill="#9a9a9a" font-weight="normal" text-anchor="start" >BURKINA FASO</text>
<text x="394.0" y="256.3" font-size="5.4" fill="#9a9a9a" font-weight="normal" text-anchor="start" >GUINEA</text>
<text x="451.6" y="280.6" font-size="5.4" fill="#9a9a9a" font-weight="normal" text-anchor="start" >IVORY COAST</text>
<text x="549.2" y="276.2" font-size="5.4" fill="#9a9a9a" font-weight="normal" text-anchor="start" >GHANA</text>
<text x="612.9" y="265.5" font-size="5.4" fill="#9a9a9a" font-weight="normal" text-anchor="start" >BENIN</text>
<text x="343.4" y="223.0" font-size="5.4" fill="#9a9a9a" font-weight="normal" text-anchor="start" >SENEGAL</text>
</g>
<rect x="365.5" y="6.4" width="96.3" height="137.0" fill="#fff"/>
<rect x="365.5" y="6.4" width="295.1" height="277.4" fill="none" stroke="#8c8c8c" stroke-width="1"/>
<clipPath id="ft2"><rect x="720.8" y="6.4" width="295.0" height="277.7"/></clipPath>
<clipPath id="mt2"><polygon points="843.2,180.7 845.6,167.5 841.2,162.5 839.2,140.0 825.0,20.5 853.3,20.5 935.9,73.7 955.5,85.5 956.2,92.0 964.0,95.3 966.0,98.6 973.2,100.5 976.5,103.8 986.3,105.8 990.8,109.0 990.8,116.2 988.2,120.2 992.2,122.1 1008.0,119.5 1008.0,150.0 1008.1,151.3 1007.6,155.9 1005.3,157.8 1004.8,167.4 1003.3,174.1 1000.5,178.0 995.7,181.8 992.8,183.2 975.5,183.7 967.8,184.2 958.3,185.2 952.5,189.5 947.7,189.9 942.9,189.5 939.1,189.5 933.3,188.0 929.5,189.0 927.6,187.1 922.8,188.0 918.9,191.4 914.2,192.8 900.7,197.1 898.8,201.9 893.1,203.8 889.2,205.7 886.3,211.5 882.5,212.5 880.6,218.2 875.8,219.7 870.0,216.3 867.2,217.3 863.3,221.1 864.3,223.5 863.8,227.8 860.5,230.2 861.4,234.1 857.6,238.8 848.0,241.2 846.6,243.6 847.5,249.4 846.1,254.2 843.2,258.0 843.7,263.8 842.2,266.6 837.0,266.6 834.1,270.5 831.7,269.5 830.7,261.8 828.8,261.8 823.5,263.8 822.6,267.6 818.3,268.6 817.3,271.0 816.4,270.0 813.0,269.5 809.7,266.6 804.9,266.6 802.0,270.5 796.2,265.7 794.3,256.6 789.5,256.6 793.8,251.8 791.4,249.9 786.6,246.5 784.7,236.0 781.8,232.6 778.0,232.6 777.5,234.5 770.8,239.3 760.8,236.9 755.0,241.7 750.2,237.4 745.4,239.8 741.5,236.9 743.0,233.1 742.5,223.5 737.7,217.3 734.4,215.3 732.0,211.5 733.4,208.6 732.4,203.8 729.6,198.1 729.6,194.3 734.4,190.4 735.8,186.6 737.7,180.7 742.0,178.4 747.3,182.8 751.6,187.1 754.5,182.0 764.6,183.2 770.8,182.8 776.4,181.0 776.4,178.9 778.0,178.0 778.5,181.0"/></clipPath>
<g clip-path="url(#ft2)">
<rect x="720.8" y="6.4" width="295.0" height="277.7" fill="#dedede"/>
<polygon points="843.2,180.7 845.6,167.5 841.2,162.5 839.2,140.0 825.0,20.5 853.3,20.5 935.9,73.7 955.5,85.5 956.2,92.0 964.0,95.3 966.0,98.6 973.2,100.5 976.5,103.8 986.3,105.8 990.8,109.0 990.8,116.2 988.2,120.2 992.2,122.1 1008.0,119.5 1008.0,150.0 1008.1,151.3 1007.6,155.9 1005.3,157.8 1004.8,167.4 1003.3,174.1 1000.5,178.0 995.7,181.8 992.8,183.2 975.5,183.7 967.8,184.2 958.3,185.2 952.5,189.5 947.7,189.9 942.9,189.5 939.1,189.5 933.3,188.0 929.5,189.0 927.6,187.1 922.8,188.0 918.9,191.4 914.2,192.8 900.7,197.1 898.8,201.9 893.1,203.8 889.2,205.7 886.3,211.5 882.5,212.5 880.6,218.2 875.8,219.7 870.0,216.3 867.2,217.3 863.3,221.1 864.3,223.5 863.8,227.8 860.5,230.2 861.4,234.1 857.6,238.8 848.0,241.2 846.6,243.6 847.5,249.4 846.1,254.2 843.2,258.0 843.7,263.8 842.2,266.6 837.0,266.6 834.1,270.5 831.7,269.5 830.7,261.8 828.8,261.8 823.5,263.8 822.6,267.6 818.3,268.6 817.3,271.0 816.4,270.0 813.0,269.5 809.7,266.6 804.9,266.6 802.0,270.5 796.2,265.7 794.3,256.6 789.5,256.6 793.8,251.8 791.4,249.9 786.6,246.5 784.7,236.0 781.8,232.6 778.0,232.6 777.5,234.5 770.8,239.3 760.8,236.9 755.0,241.7 750.2,237.4 745.4,239.8 741.5,236.9 743.0,233.1 742.5,223.5 737.7,217.3 734.4,215.3 732.0,211.5 733.4,208.6 732.4,203.8 729.6,198.1 729.6,194.3 734.4,190.4 735.8,186.6 737.7,180.7 742.0,178.4 747.3,182.8 751.6,187.1 754.5,182.0 764.6,183.2 770.8,182.8 776.4,181.0 776.4,178.9 778.0,178.0 778.5,181.0" fill="#fff" />
<clipPath id="ct2"><rect x="720.8" y="152.0" width="295.0" height="132.1"/></clipPath>
<g clip-path="url(#ct2)"><g clip-path="url(#mt2)">
<rect x="720.8" y="152.0" width="295.0" height="132.1" fill="#fb8c33"/>
<g filter="url(#rag1)">
<rect x="700.8" y="132.0" width="335.0" height="172.1" fill="#fb8c33"/>
<polygon points="730.7,195.9 740.5,192.0 750.3,192.9 757.2,198.8 760.1,206.7 758.1,214.5 750.3,215.5 744.4,211.6 736.6,208.6 731.7,202.7" fill="#fdfb66" stroke="#fdfb66" stroke-width="0.5"/>
<polygon points="769.9,219.4 779.7,217.5 789.5,216.5 789.5,224.3 783.6,228.2 773.8,227.3 769.9,224.3" fill="#fdfb66" stroke="#fdfb66" stroke-width="0.5"/>
<polygon points="791.5,218.4 797.4,212.5 807.2,210.6 815.0,214.5 820.9,212.5 823.8,202.7 832.6,191.0 840.5,196.9 844.4,191.0 852.3,192.9 860.1,191.0 864.0,198.8 871.9,195.9 881.7,200.8 882.6,206.7 873.8,211.6 866.0,206.7 860.1,206.7 862.1,214.5 860.1,226.3 858.1,236.1 850.3,240.0 844.4,242.9 846.4,251.8 842.5,265.5 832.6,269.4 829.7,259.6 824.8,249.8 826.8,242.0 832.6,238.0 828.7,232.2 820.9,236.1 815.0,240.0 817.0,245.9 813.0,255.7 805.2,257.6 797.4,251.8 793.4,245.9 787.5,240.0 785.6,234.1 790.5,232.2" fill="#fdfb66" stroke="#fdfb66" stroke-width="0.5"/>
<polygon points="929.9,162.4 933.8,163.3 936.7,160.4 938.7,164.3 941.6,166.3 938.7,169.2 936.7,173.1 933.8,171.2 929.9,172.2 930.9,167.3" fill="#fdfb66" stroke="#fdfb66" stroke-width="0.5"/>
<polygon points="838.7,152.0 858.3,152.0 853.4,157.5 861.3,166.3 853.4,174.1 843.6,170.2 840.7,161.4" fill="#ec1717" stroke="#ec1717" stroke-width="0.5"/>
<polygon points="961.3,152.0 1008.3,152.0 1005.4,169.2 996.5,178.0 992.6,171.2 990.7,164.3 980.9,165.3 973.0,167.3 969.1,162.4 964.2,159.4" fill="#ec1717" stroke="#ec1717" stroke-width="0.5"/>
<polygon points="791.5,230.6 793.4,225.3 800.3,222.4 807.2,225.3 809.1,230.6 806.8,236.1 800.3,239.0 793.8,236.1" fill="#9dc59f" stroke="#9dc59f" stroke-width="0.5"/>
<polygon points="795.4,228.2 801.3,227.3 802.8,231.2 798.3,233.1 795.0,231.2" fill="#2c8fd6" stroke="#2c8fd6" stroke-width="0.5"/>
</g></g></g>
<g filter="url(#rag1n)">
<polyline points="715.7,183.7 719.5,187.1 724.3,189.0 727.2,192.3 729.6,194.3" fill="none" stroke="#858585" stroke-width="0.9" stroke-linejoin="round" />
<polyline points="712.8,232.6 719.5,232.6 724.3,233.6 728.1,234.5 734.8,233.1 742.5,232.6" fill="none" stroke="#858585" stroke-width="0.9" stroke-linejoin="round" />
<polyline points="714.7,292.5 721.4,282.0 725.3,275.8 734.8,274.3 746.4,273.8 752.6,282.0 758.8,292.5" fill="none" stroke="#858585" stroke-width="0.9" stroke-linejoin="round" />
<polyline points="797.7,292.5 798.1,282.0 798.1,275.3 802.0,270.5" fill="none" stroke="#858585" stroke-width="0.9" stroke-linejoin="round" />
<polyline points="842.2,266.6 848.0,269.5 851.8,275.3 854.7,278.2 858.6,279.1 862.4,280.6 864.3,277.2 872.9,274.8 881.5,275.8 885.4,279.1 887.3,282.0 890.7,289.7" fill="none" stroke="#858585" stroke-width="0.9" stroke-linejoin="round" />
<polyline points="891.1,290.6 890.2,282.0 888.3,271.4 889.2,266.6 886.3,261.8 888.3,257.0 914.2,256.8" fill="none" stroke="#858585" stroke-width="0.9" stroke-linejoin="round" />
<polyline points="939.6,189.6 941.7,201.1 948.0,211.6 954.2,217.9 956.3,216.8 964.7,226.2 973.1,232.5 977.2,238.8" fill="none" stroke="#858585" stroke-width="0.9" stroke-linejoin="round" />
<polyline points="977.2,238.8 983.5,234.6 996.1,243.0 998.2,255.5 1000.3,263.9 996.1,276.4 991.9,285.9" fill="none" stroke="#858585" stroke-width="0.9" stroke-linejoin="round" />
<polyline points="1018.0,210.5 1008.6,215.8 1004.4,228.3 998.2,243.0" fill="none" stroke="#858585" stroke-width="0.9" stroke-linejoin="round" />
<polyline points="977.2,238.8 977.2,247.2 964.7,253.4 950.0,257.6" fill="none" stroke="#858585" stroke-width="0.9" stroke-linejoin="round" />
<polyline points="914.1,256.2 935.4,255.5 950.0,257.6 956.3,272.3 964.7,285.9" fill="none" stroke="#858585" stroke-width="0.9" stroke-linejoin="round" />
<polyline points="935.4,255.5 939.6,266.0 942.7,276.4 941.7,285.9" fill="none" stroke="#858585" stroke-width="0.9" stroke-linejoin="round" />
<polyline points="832.4,6.5 853.3,20.5" fill="none" stroke="#858585" stroke-width="0.9" stroke-linejoin="round" />
<polyline points="1008.2,119.7 1017.9,117.6" fill="none" stroke="#858585" stroke-width="0.9" stroke-linejoin="round" />
</g>
<polyline points="751.6,187.1 749.2,190.4 752.1,195.2 752.6,200.0 750.2,205.7 741.6,209.6 737.7,213.4 734.4,215.3" fill="none" stroke="#77756f" stroke-width="0.7" stroke-linejoin="round" />
<polyline points="741.6,209.6 747.3,216.3 750.2,221.1 752.1,223.5" fill="none" stroke="#77756f" stroke-width="0.7" stroke-linejoin="round" />
<polyline points="752.1,195.2 760.8,196.2 764.6,195.2 770.3,191.4 775.1,192.3 776.1,188.5 772.2,186.6" fill="none" stroke="#77756f" stroke-width="0.7" stroke-linejoin="round" />
<polyline points="764.6,195.2 764.6,203.8 768.4,201.0 779.9,200.0 785.7,201.0" fill="none" stroke="#77756f" stroke-width="0.7" stroke-linejoin="round" />
<polyline points="764.6,203.8 766.5,211.5 768.4,213.4 764.6,217.3 760.8,223.5" fill="none" stroke="#77756f" stroke-width="0.7" stroke-linejoin="round" />
<polyline points="798.1,200.0 804.9,201.0 816.4,202.9" fill="none" stroke="#77756f" stroke-width="0.7" stroke-linejoin="round" />
<polyline points="804.9,201.0 804.9,207.7 806.8,212.5 804.9,216.3 802.9,223.5" fill="none" stroke="#77756f" stroke-width="0.7" stroke-linejoin="round" />
<polyline points="781.8,181.8 783.7,190.4 789.5,192.3 793.3,192.3" fill="none" stroke="#77756f" stroke-width="0.7" stroke-linejoin="round" />
<polyline points="752.1,223.5 755.0,226.4 762.7,227.3 762.7,233.1 760.8,236.9" fill="none" stroke="#77756f" stroke-width="0.7" stroke-linejoin="round" />
<polyline points="784.7,234.1 791.4,236.0 795.3,239.8 797.2,245.5" fill="none" stroke="#77756f" stroke-width="0.7" stroke-linejoin="round" />
<polyline points="798.1,245.1 797.2,248.4 802.9,252.2 805.8,256.1 804.9,261.8 802.9,265.7 804.9,266.6" fill="none" stroke="#77756f" stroke-width="0.7" stroke-linejoin="round" />
<polyline points="814.4,234.1 815.4,238.8 816.4,240.8" fill="none" stroke="#77756f" stroke-width="0.7" stroke-linejoin="round" />
<polyline points="816.4,251.3 820.2,252.2 825.0,250.3 825.4,245.1" fill="none" stroke="#77756f" stroke-width="0.7" stroke-linejoin="round" />
<polyline points="825.0,250.3 827.8,255.1 830.7,258.9 830.7,261.8" fill="none" stroke="#77756f" stroke-width="0.7" stroke-linejoin="round" />
<polyline points="830.7,258.9 838.4,257.0 843.2,258.0" fill="none" stroke="#77756f" stroke-width="0.7" stroke-linejoin="round" />
<polyline points="834.6,236.9 841.3,240.8 847.0,242.7" fill="none" stroke="#77756f" stroke-width="0.7" stroke-linejoin="round" />
<polyline points="849.9,229.7 851.8,233.1 849.0,236.9 848.0,241.2" fill="none" stroke="#77756f" stroke-width="0.7" stroke-linejoin="round" />
<polyline points="816.4,200.0 820.2,201.9 823.1,198.6 830.7,199.5 831.7,205.7 834.6,208.6" fill="none" stroke="#77756f" stroke-width="0.7" stroke-linejoin="round" />
<polyline points="840.3,197.1 838.4,201.9 835.5,206.7 834.6,208.6 827.8,211.5 824.0,217.3 825.0,221.1 830.7,220.6 832.6,217.3 839.4,216.3 848.0,213.4 853.3,211.5" fill="none" stroke="#77756f" stroke-width="0.7" stroke-linejoin="round" />
<polyline points="849.9,185.6 858.6,186.6 861.4,189.5 868.1,186.6 871.5,187.6 871.0,180.8" fill="none" stroke="#77756f" stroke-width="0.7" stroke-linejoin="round" />
<polyline points="861.4,189.5 864.3,195.2 856.6,198.1 854.7,203.8 852.8,205.3" fill="none" stroke="#77756f" stroke-width="0.7" stroke-linejoin="round" />
<polyline points="871.5,187.6 872.0,192.3 870.0,198.1 867.2,203.8 866.2,207.7" fill="none" stroke="#77756f" stroke-width="0.7" stroke-linejoin="round" />
<polyline points="872.0,192.3 881.5,189.5 882.5,192.3 887.3,193.3 882.5,198.1 879.6,203.8 875.8,204.8 877.7,207.7 880.6,211.5 880.6,218.2" fill="none" stroke="#77756f" stroke-width="0.7" stroke-linejoin="round" />
<polyline points="870.0,205.7 875.8,204.8" fill="none" stroke="#77756f" stroke-width="0.7" stroke-linejoin="round" />
<polyline points="887.3,193.3 893.1,194.3 898.8,197.1" fill="none" stroke="#77756f" stroke-width="0.7" stroke-linejoin="round" />
<polyline points="875.8,171.7 887.3,170.8 888.3,172.7 887.3,173.2" fill="none" stroke="#77756f" stroke-width="0.7" stroke-linejoin="round" />
<polyline points="866.2,174.1 875.8,171.7 885.4,166.4" fill="none" stroke="#77756f" stroke-width="0.7" stroke-linejoin="round" />
<polyline points="878.7,151.3 881.9,161.7 892.1,160.7 894.0,155.9" fill="none" stroke="#77756f" stroke-width="0.7" stroke-linejoin="round" />
<polyline points="926.6,180.8 940.0,175.6 945.8,169.3 958.3,157.8 961.1,151.3" fill="none" stroke="#77756f" stroke-width="0.7" stroke-linejoin="round" />
<polyline points="924.2,160.7 933.3,161.6 942.9,151.3" fill="none" stroke="#77756f" stroke-width="0.7" stroke-linejoin="round" />
<polyline points="958.3,157.8 961.6,164.5 960.2,172.2 961.1,174.1 959.2,178.9 958.3,185.2" fill="none" stroke="#77756f" stroke-width="0.7" stroke-linejoin="round" />
<polyline points="940.0,175.6 943.9,181.8 947.7,187.6 947.2,189.9" fill="none" stroke="#77756f" stroke-width="0.7" stroke-linejoin="round" />
<polyline points="828.1,46.4 878.7,151.2" fill="none" stroke="#77756f" stroke-width="0.7" stroke-linejoin="round" />
<polyline points="959.5,95.3 960.1,116.2 952.3,122.8 951.0,130.6 944.4,136.5" fill="none" stroke="#77756f" stroke-width="0.7" stroke-linejoin="round" />
<polyline points="960.1,116.2 966.0,124.1 974.5,124.1 975.8,120.2 983.7,122.1 988.2,120.2" fill="none" stroke="#77756f" stroke-width="0.7" stroke-linejoin="round" />
<polyline points="966.0,124.1 969.3,134.5 969.9,138.5" fill="none" stroke="#77756f" stroke-width="0.7" stroke-linejoin="round" />
<polyline points="966.7,141.7 961.4,150.2 960.5,151.7" fill="none" stroke="#77756f" stroke-width="0.7" stroke-linejoin="round" />
<polyline points="966.7,142.4 944.4,147.6 942.5,151.7" fill="none" stroke="#77756f" stroke-width="0.7" stroke-linejoin="round" />
<polyline points="781.8,181.8 785.7,183.7 787.6,186.6 792.4,190.4 793.3,192.3 797.2,196.2 798.1,200.0 789.5,199.0 785.7,201.0 786.6,204.8 789.5,206.7 792.4,207.7 791.4,212.5 792.4,215.3 792.4,223.5 790.5,223.5 789.0,228.3 784.7,232.6" fill="none" stroke="#55524c" stroke-width="1.3" stroke-linejoin="round" />
<polyline points="827.8,181.3 825.4,188.5 827.8,195.2 824.0,199.0 820.2,203.8 819.2,209.6 821.1,215.3 818.3,219.2 816.4,220.6 814.4,223.0 816.4,223.5 815.4,229.3 818.3,234.1 816.4,238.8 816.4,240.8" fill="none" stroke="#55524c" stroke-width="1.3" stroke-linejoin="round" />
<polyline points="791.4,246.5 798.1,245.1 804.9,241.7 814.4,234.1 816.4,237.9 816.4,240.8 822.1,242.7 825.4,245.1 827.8,239.8 834.6,236.9 830.7,232.1 828.8,229.3 833.1,226.9 838.4,226.4 846.1,226.4 849.9,229.7 854.7,228.3 858.6,227.3 861.0,230.2" fill="none" stroke="#55524c" stroke-width="1.3" stroke-linejoin="round" />
<polyline points="849.0,181.8 848.0,187.6 842.2,191.4 840.3,197.1 845.1,201.0 849.0,204.8 852.8,205.3 853.3,211.5 858.6,212.5 866.2,207.7 868.1,215.3 863.3,221.1" fill="none" stroke="#55524c" stroke-width="1.3" stroke-linejoin="round" />
<polyline points="843.4,180.7 849.0,181.8 856.6,179.9 864.3,177.0 868.1,176.0 870.0,178.9 871.0,180.8 875.8,178.9 879.6,175.1 883.5,174.1 887.3,173.2 891.1,178.9 893.1,182.8 902.7,182.8 914.2,183.7 919.9,186.6 927.6,187.1" fill="none" stroke="#55524c" stroke-width="1.3" stroke-linejoin="round" />
<polyline points="927.6,187.1 925.6,178.9 923.7,169.3 924.2,157.3 914.2,156.4 908.4,155.4 908.4,151.3" fill="none" stroke="#55524c" stroke-width="1.3" stroke-linejoin="round" />
<polyline points="935.9,73.7 932.7,84.2 901.9,105.1 921.5,121.5 936.6,124.7 944.4,137.2 956.2,143.7 966.7,141.7 969.3,141.7 970.6,138.2 1007.9,139.1" fill="none" stroke="#55524c" stroke-width="1.3" stroke-linejoin="round" />
<polyline points="921.5,121.5 920.9,138.5 907.8,147.0 909.4,151.6" fill="none" stroke="#55524c" stroke-width="1.3" stroke-linejoin="round" />
<polygon points="843.2,180.7 845.6,167.5 841.2,162.5 839.2,140.0 825.0,20.5 853.3,20.5 935.9,73.7 955.5,85.5 956.2,92.0 964.0,95.3 966.0,98.6 973.2,100.5 976.5,103.8 986.3,105.8 990.8,109.0 990.8,116.2 988.2,120.2 992.2,122.1 1008.0,119.5 1008.0,150.0 1008.1,151.3 1007.6,155.9 1005.3,157.8 1004.8,167.4 1003.3,174.1 1000.5,178.0 995.7,181.8 992.8,183.2 975.5,183.7 967.8,184.2 958.3,185.2 952.5,189.5 947.7,189.9 942.9,189.5 939.1,189.5 933.3,188.0 929.5,189.0 927.6,187.1 922.8,188.0 918.9,191.4 914.2,192.8 900.7,197.1 898.8,201.9 893.1,203.8 889.2,205.7 886.3,211.5 882.5,212.5 880.6,218.2 875.8,219.7 870.0,216.3 867.2,217.3 863.3,221.1 864.3,223.5 863.8,227.8 860.5,230.2 861.4,234.1 857.6,238.8 848.0,241.2 846.6,243.6 847.5,249.4 846.1,254.2 843.2,258.0 843.7,263.8 842.2,266.6 837.0,266.6 834.1,270.5 831.7,269.5 830.7,261.8 828.8,261.8 823.5,263.8 822.6,267.6 818.3,268.6 817.3,271.0 816.4,270.0 813.0,269.5 809.7,266.6 804.9,266.6 802.0,270.5 796.2,265.7 794.3,256.6 789.5,256.6 793.8,251.8 791.4,249.9 786.6,246.5 784.7,236.0 781.8,232.6 778.0,232.6 777.5,234.5 770.8,239.3 760.8,236.9 755.0,241.7 750.2,237.4 745.4,239.8 741.5,236.9 743.0,233.1 742.5,223.5 737.7,217.3 734.4,215.3 732.0,211.5 733.4,208.6 732.4,203.8 729.6,198.1 729.6,194.3 734.4,190.4 735.8,186.6 737.7,180.7 742.0,178.4 747.3,182.8 751.6,187.1 754.5,182.0 764.6,183.2 770.8,182.8 776.4,181.0 776.4,178.9 778.0,178.0 778.5,181.0" fill="none" stroke="#555049" stroke-width="1.4" stroke-linejoin="round"/>
</g>
<g clip-path="url(#ft2)">
<text x="753.1" y="167.2" font-size="5.4" fill="#9a9a9a" font-weight="normal" text-anchor="start" >MAURITANIA</text>
<text x="962.8" y="57.5" font-size="5.4" fill="#9a9a9a" font-weight="normal" text-anchor="start" >ALGERIA</text>
<text x="976.8" y="208.7" font-size="5.4" fill="#9a9a9a" font-weight="normal" text-anchor="start" >NIGER</text>
<text x="891.3" y="234.6" font-size="5.4" fill="#9a9a9a" font-weight="normal" text-anchor="start" >BURKINA FASO</text>
<text x="749.4" y="256.3" font-size="5.4" fill="#9a9a9a" font-weight="normal" text-anchor="start" >GUINEA</text>
<text x="807.0" y="280.6" font-size="5.4" fill="#9a9a9a" font-weight="normal" text-anchor="start" >IVORY COAST</text>
<text x="904.6" y="276.2" font-size="5.4" fill="#9a9a9a" font-weight="normal" text-anchor="start" >GHANA</text>
<text x="968.3" y="265.5" font-size="5.4" fill="#9a9a9a" font-weight="normal" text-anchor="start" >BENIN</text>
<text x="698.8" y="223.0" font-size="5.4" fill="#9a9a9a" font-weight="normal" text-anchor="start" >SENEGAL</text>
</g>
<rect x="720.8" y="6.4" width="92.0" height="144.6" fill="#fff"/>
<rect x="720.8" y="6.4" width="295.0" height="277.7" fill="none" stroke="#8c8c8c" stroke-width="1"/>
<text x="16.2" y="17.6" font-size="6.5" fill="#4a4a4a" font-weight="bold" text-anchor="start" >Exposure Composed</text>
<text x="16.2" y="25.1" font-size="6.5" fill="#4a4a4a" font-weight="bold" text-anchor="start" >of the Following Indicators:</text>
<text x="16.2" y="32.6" font-size="6.5" fill="#4a4a4a" font-weight="bold" text-anchor="start" >PRCP, IACV, DCVAR, NDVICV,</text>
<text x="16.2" y="40.1" font-size="6.5" fill="#4a4a4a" font-weight="bold" text-anchor="start" >TTREND, FLOOD</text>
<rect x="15.9" y="50.5" width="19.6" height="9.7" fill="#ec1717" stroke="#555" stroke-width="1.3"/>
<text x="38.6" y="57.8" font-size="6.5" fill="#606060" font-weight="normal" text-anchor="start" >81 - 100</text>
<rect x="15.9" y="66.6" width="19.6" height="9.7" fill="#fb8c33" stroke="#555" stroke-width="1.3"/>
<text x="38.6" y="73.8" font-size="6.5" fill="#606060" font-weight="normal" text-anchor="start" >61 - 80</text>
<rect x="15.9" y="82.6" width="19.6" height="9.7" fill="#fdfb66" stroke="#555" stroke-width="1.3"/>
<text x="38.6" y="89.8" font-size="6.5" fill="#606060" font-weight="normal" text-anchor="start" >41 - 60</text>
<rect x="15.9" y="98.7" width="19.6" height="9.7" fill="#9dc59f" stroke="#555" stroke-width="1.3"/>
<text x="38.6" y="106.0" font-size="6.5" fill="#606060" font-weight="normal" text-anchor="start" >21 - 40</text>
<rect x="15.9" y="114.7" width="19.6" height="9.7" fill="#2c8fd6" stroke="#555" stroke-width="1.3"/>
<text x="38.6" y="122.0" font-size="6.5" fill="#606060" font-weight="normal" text-anchor="start" >0 - 20</text>
<rect x="15.9" y="128.0" width="19.6" height="9.7" fill="#fff" stroke="#555" stroke-width="1.3"/>
<text x="38.6" y="135.2" font-size="6.5" fill="#606060" font-weight="normal" text-anchor="start" >Region</text>
<rect x="15.9" y="140.8" width="19.6" height="9.7" fill="#fff" stroke="#999" stroke-width="0.8"/>
<text x="38.6" y="148.1" font-size="6.5" fill="#606060" font-weight="normal" text-anchor="start" >Circle</text>
<text x="371.4" y="17.6" font-size="6.5" fill="#4a4a4a" font-weight="bold" text-anchor="start" >Sensitivity is Composed</text>
<text x="371.4" y="25.1" font-size="6.5" fill="#4a4a4a" font-weight="bold" text-anchor="start" >of the Following Indicators:</text>
<text x="371.4" y="32.6" font-size="6.5" fill="#4a4a4a" font-weight="bold" text-anchor="start" >HHWL, STNT, POVI, CONF,</text>
<text x="371.4" y="40.1" font-size="6.5" fill="#4a4a4a" font-weight="bold" text-anchor="start" >CARB, MALA, IMR</text>
<rect x="371.1" y="51.0" width="19.2" height="8.9" fill="#ec1717" stroke="#555" stroke-width="1.3"/>
<text x="395.1" y="57.9" font-size="6.5" fill="#606060" font-weight="normal" text-anchor="start" >81 - 100</text>
<rect x="371.1" y="64.0" width="19.2" height="8.9" fill="#fb8c33" stroke="#555" stroke-width="1.3"/>
<text x="395.1" y="70.8" font-size="6.5" fill="#606060" font-weight="normal" text-anchor="start" >61 - 80</text>
<rect x="371.1" y="76.9" width="19.2" height="8.9" fill="#fdfb66" stroke="#555" stroke-width="1.3"/>
<text x="395.1" y="83.8" font-size="6.5" fill="#606060" font-weight="normal" text-anchor="start" >41 - 60</text>
<rect x="371.1" y="89.8" width="19.2" height="8.9" fill="#9dc59f" stroke="#555" stroke-width="1.3"/>
<text x="395.1" y="96.7" font-size="6.5" fill="#606060" font-weight="normal" text-anchor="start" >21 - 40</text>
<rect x="371.1" y="102.8" width="19.2" height="8.9" fill="#2c8fd6" stroke="#555" stroke-width="1.3"/>
<text x="395.1" y="109.7" font-size="6.5" fill="#606060" font-weight="normal" text-anchor="start" >0 - 20</text>
<rect x="371.1" y="115.8" width="19.2" height="8.9" fill="#fff" stroke="#555" stroke-width="1.3"/>
<text x="395.1" y="122.6" font-size="6.5" fill="#606060" font-weight="normal" text-anchor="start" >Region</text>
<rect x="371.1" y="128.7" width="19.2" height="8.9" fill="#fff" stroke="#999" stroke-width="0.8"/>
<text x="395.1" y="135.5" font-size="6.5" fill="#606060" font-weight="normal" text-anchor="start" >Circle</text>
<text x="726.6" y="17.8" font-size="6.5" fill="#4a4a4a" font-weight="bold" text-anchor="start" >Lack of Adaptive Capacity</text>
<text x="726.6" y="25.1" font-size="6.5" fill="#4a4a4a" font-weight="bold" text-anchor="start" >Composed of the</text>
<text x="726.6" y="32.4" font-size="6.5" fill="#4a4a4a" font-weight="bold" text-anchor="start" >Following Indicators:</text>
<text x="726.6" y="39.7" font-size="6.5" fill="#4a4a4a" font-weight="bold" text-anchor="start" >EDMO, MARK, HEALTH,</text>
<text x="726.6" y="47.0" font-size="6.5" fill="#4a4a4a" font-weight="bold" text-anchor="start" >ANTH, IRRI</text>
<rect x="726.3" y="58.6" width="19.4" height="9.4" fill="#ec1717" stroke="#555" stroke-width="1.3"/>
<text x="755.2" y="65.7" font-size="6.5" fill="#606060" font-weight="normal" text-anchor="start" >81 - 100</text>
<rect x="726.3" y="71.6" width="19.4" height="9.4" fill="#fb8c33" stroke="#555" stroke-width="1.3"/>
<text x="755.2" y="78.7" font-size="6.5" fill="#606060" font-weight="normal" text-anchor="start" >61 - 80</text>
<rect x="726.3" y="84.5" width="19.4" height="9.4" fill="#fdfb66" stroke="#555" stroke-width="1.3"/>
<text x="755.2" y="91.6" font-size="6.5" fill="#606060" font-weight="normal" text-anchor="start" >41 - 60</text>
<rect x="726.3" y="97.5" width="19.4" height="9.4" fill="#9dc59f" stroke="#555" stroke-width="1.3"/>
<text x="755.2" y="104.6" font-size="6.5" fill="#606060" font-weight="normal" text-anchor="start" >21 - 40</text>
<rect x="726.3" y="110.5" width="19.4" height="9.4" fill="#2c8fd6" stroke="#555" stroke-width="1.3"/>
<text x="755.2" y="117.6" font-size="6.5" fill="#606060" font-weight="normal" text-anchor="start" >0 - 20</text>
<rect x="726.3" y="123.5" width="19.4" height="9.4" fill="#fff" stroke="#555" stroke-width="1.3"/>
<text x="755.2" y="130.6" font-size="6.5" fill="#606060" font-weight="normal" text-anchor="start" >Region</text>
<rect x="726.3" y="136.4" width="19.4" height="9.4" fill="#fff" stroke="#999" stroke-width="0.8"/>
<text x="755.2" y="143.5" font-size="6.5" fill="#606060" font-weight="normal" text-anchor="start" >Circle</text>
<text x="175.2" y="253.0" font-size="22.2" fill="#000" font-weight="bold" text-anchor="start" >Exposure</text>
<text x="524.8" y="253.0" font-size="22.2" fill="#000" font-weight="bold" text-anchor="start" >Sensitivity</text>
<text x="936.4" y="227.2" font-size="22.4" fill="#000" font-weight="bold" text-anchor="middle" >Lack of</text>
<text x="936.4" y="252.5" font-size="22.4" fill="#000" font-weight="bold" text-anchor="middle" >Adaptive</text>
<text x="936.4" y="277.8" font-size="22.4" fill="#000" font-weight="bold" text-anchor="middle" >Capacity</text>
<path d="M327.3 141.2h17.8M336.2 132.4v17.8" stroke="#000" stroke-width="3.1" fill="none"/>
<path d="M680.8 141.2h17.8M689.7 132.4v17.8" stroke="#000" stroke-width="3.1" fill="none"/>
<path d="M11.2 292.4C11.2 315 12.5 324.1 17.5 324.1H506.5C511 324.1 513.2 333 513.2 355.3C513.2 333 515.4 324.1 520 324.1H1009.5C1014.3 324.1 1015.5 315 1015.5 291.8" fill="none" stroke="#444" stroke-width="1.1"/>
<clipPath id="fbig"><rect x="216.0" y="368.2" width="603.3" height="268.4"/></clipPath>
<clipPath id="mbig"><polygon points="468.9,428.5 473.8,401.5 464.8,391.3 460.7,345.3 431.7,100.9 489.6,100.9 658.5,209.7 698.6,233.8 700.0,247.1 715.9,253.8 720.0,260.6 734.7,264.5 741.5,271.2 761.5,275.3 770.7,281.9 770.7,296.6 765.4,304.8 773.6,308.6 805.9,303.3 805.9,365.7 806.2,368.4 805.2,377.8 800.3,381.7 799.3,401.3 796.4,415.0 790.5,422.9 780.7,430.7 774.8,433.6 739.5,434.6 723.8,435.6 704.2,437.6 692.4,446.4 682.6,447.4 672.8,446.4 665.0,446.4 653.2,443.5 645.4,445.4 641.5,441.5 631.6,443.5 623.8,450.3 614.0,453.3 586.5,462.1 582.6,471.9 570.9,475.8 563.0,479.7 557.1,491.5 549.3,493.5 545.4,505.2 535.6,508.2 523.8,501.3 517.9,503.3 510.0,511.1 512.0,516.0 511.0,524.8 504.2,529.7 506.2,537.6 498.3,547.4 478.7,552.3 475.8,557.2 477.7,568.9 474.8,578.7 468.9,586.6 469.9,598.4 466.9,604.2 456.2,604.2 450.3,612.1 445.4,610.1 443.4,594.4 439.5,594.4 428.7,598.4 426.7,606.2 417.9,608.2 416.0,613.1 414.0,611.1 407.1,610.1 400.3,604.2 390.5,604.2 384.6,612.1 372.8,602.3 368.9,583.6 359.1,583.6 367.9,573.8 363.0,569.9 353.2,563.0 349.3,541.5 343.4,534.6 335.6,534.6 334.6,538.5 320.9,548.4 300.3,543.5 288.5,553.3 278.7,544.4 268.9,549.3 261.0,543.5 264.0,535.6 263.0,516.0 253.2,503.3 246.4,499.3 241.5,491.5 244.4,485.6 242.4,475.8 236.5,464.0 236.5,456.2 246.4,448.4 249.3,440.5 253.2,428.4 262.0,423.8 272.8,432.7 281.6,441.5 287.5,431.1 308.1,433.6 320.9,432.7 332.2,429.1 332.2,424.8 335.6,422.9 336.5,429.1"/></clipPath>
<g clip-path="url(#fbig)">
<rect x="216.0" y="368.2" width="603.3" height="268.4" fill="#dedede"/>
<clipPath id="cbig"><rect x="216.0" y="368.2" width="603.3" height="268.4"/></clipPath>
<g clip-path="url(#cbig)"><g clip-path="url(#mbig)">
<rect x="216.0" y="368.2" width="603.3" height="268.4" fill="#fb8c33"/>
<g filter="url(#rag2)">
<rect x="196.0" y="348.2" width="643.3" height="308.4" fill="#fb8c33"/>
<polygon points="230.0,458.2 237.5,458.2 243.4,462.1 263.0,461.1 272.8,459.1 282.6,462.1 285.6,455.2 292.4,446.4 298.3,448.4 300.3,458.2 306.2,461.1 308.1,471.9 310.1,479.7 316.0,483.6 320.9,491.5 323.8,496.4 331.6,501.3 336.5,504.2 343.4,497.4 351.3,499.3 359.1,495.4 363.0,493.5 365.0,488.5 376.7,487.6 386.5,491.5 391.4,495.4 398.3,491.5 408.1,491.5 414.0,495.4 421.8,495.4 433.6,491.5 441.5,483.6 449.3,479.7 447.3,468.0 451.3,464.0 456.2,471.9 459.1,479.7 472.8,478.7 474.8,483.6 463.0,489.5 459.1,497.4 463.0,503.3 472.8,505.2 478.7,507.2 486.5,501.3 492.4,503.3 498.3,503.3 492.4,516.0 494.4,523.8 490.5,527.8 492.4,533.6 500.3,534.6 505.2,529.7 520.0,530.0 530.0,650.0 200.0,650.0 200.0,458.0" fill="#fdfb66" stroke="#fdfb66" stroke-width="0.5"/>
<polygon points="443.4,527.8 450.3,528.7 451.3,535.6 445.4,537.6 443.0,533.6" fill="#fb8c33" stroke="#fb8c33" stroke-width="0.5"/>
<polygon points="432.6,533.6 437.5,534.6 439.5,545.4 435.6,544.4" fill="#fb8c33" stroke="#fb8c33" stroke-width="0.5"/>
<polygon points="415.6,553.3 418.9,554.2 418.9,561.1 416.0,560.1" fill="#fb8c33" stroke="#fb8c33" stroke-width="0.5"/>
<polygon points="425.8,558.2 429.7,559.1 429.7,564.0 426.2,563.1" fill="#fb8c33" stroke="#fb8c33" stroke-width="0.5"/>
<polygon points="463.0,503.3 472.8,505.6 476.7,511.1 468.9,513.1 463.0,509.1" fill="#fb8c33" stroke="#fb8c33" stroke-width="0.5"/>
<polygon points="511.1,460.1 516.9,460.1 517.5,466.0 512.0,465.0" fill="#fdfb66" stroke="#fdfb66" stroke-width="0.5"/>
<polygon points="531.6,466.4 537.5,466.4 537.9,470.9 532.4,470.5" fill="#fdfb66" stroke="#fdfb66" stroke-width="0.5"/>
<polygon points="550.9,383.6 555.2,384.0 554.8,387.2 551.3,386.8" fill="#fdfb66" stroke="#fdfb66" stroke-width="0.5"/>
<polygon points="288.5,458.2 285.6,455.2 292.4,446.4 298.3,448.4 300.3,458.2" fill="#fdfb66" stroke="#fdfb66" stroke-width="0.5"/>
<polygon points="322.8,429.1 319.9,438.5 322.8,443.5 331.6,441.5 339.5,443.5 349.3,447.4 359.1,445.4 366.9,450.3 376.7,454.2 384.6,455.2 390.5,450.3 391.5,444.4 400.3,441.5 405.2,436.6 410.1,434.6 414.0,433.6 425.8,433.6 433.6,429.8 433.6,428.0" fill="#ec1717" stroke="#ec1717" stroke-width="0.5"/>
<polygon points="455.0,360.0 529.7,360.0 531.6,375.8 536.5,377.8 536.5,391.5 529.7,397.4 523.8,403.3 517.9,406.2 516.0,414.0 508.1,418.9 498.3,422.9 494.4,418.0 480.7,421.9 474.8,425.8 468.9,428.4 455.0,428.0" fill="#ec1717" stroke="#ec1717" stroke-width="0.5"/>
<polygon points="517.9,406.2 523.8,403.3 531.6,397.4 539.5,395.4 551.3,404.2 559.1,411.1 551.3,415.0 543.4,417.0 535.6,422.9 527.7,424.8 523.8,420.9 516.0,415.0" fill="#ec1717" stroke="#ec1717" stroke-width="0.5"/>
<polygon points="572.8,377.8 584.6,376.8 602.2,376.8 614.0,378.7 634.6,380.7 633.6,405.2 637.5,424.8 641.5,441.5 631.6,446.0 623.8,452.0 614.0,455.0 602.2,458.0 586.5,464.0 582.6,471.9 570.9,472.9 559.1,469.9 563.0,460.1 570.9,456.2 582.6,454.2 590.5,448.4 586.5,444.4 574.8,450.3 563.0,448.4 559.1,444.4 570.9,440.5 582.6,434.6 570.9,432.7 563.0,424.8 559.1,418.9 551.3,415.0 559.1,411.1 551.3,404.2 555.2,399.3 563.0,395.4 570.9,389.5" fill="#ec1717" stroke="#ec1717" stroke-width="0.5"/>
<polygon points="453.2,434.6 461.1,430.7 480.7,429.7 480.7,440.5 472.8,442.5 465.0,438.5 457.1,437.6" fill="#ec1717" stroke="#ec1717" stroke-width="0.5"/>
<polygon points="529.0,436.0 535.0,432.0 547.0,432.5 550.0,438.0 541.0,442.5 532.0,441.0" fill="#ec1717" stroke="#ec1717" stroke-width="0.5"/>
<polygon points="548.0,430.0 556.0,427.5 565.0,429.5 563.0,435.0 552.0,435.5" fill="#ec1717" stroke="#ec1717" stroke-width="0.5"/>
<polygon points="780.7,394.4 802.0,394.4 802.0,401.3 798.0,415.0 792.0,424.0 782.0,432.0 774.8,435.0 737.5,435.0 737.5,428.7 745.4,428.7 745.4,412.1 780.7,411.1" fill="#ec1717" stroke="#ec1717" stroke-width="0.5"/>
<polygon points="678.7,428.7 688.5,428.7 688.5,424.8 694.4,424.8 694.4,428.7 727.7,428.7 725.8,436.0 704.2,439.0 692.4,445.0 682.6,442.5 682.6,432.7 678.7,431.7" fill="#ec1717" stroke="#ec1717" stroke-width="0.5"/>
<polygon points="362.2,523.1 366.9,516.9 385.7,516.2 398.2,520.0 401.4,531.0 398.2,538.8 388.8,545.1 384.1,551.4 377.8,543.5 370.0,537.3 363.7,531.0" fill="#9dc59f" stroke="#9dc59f" stroke-width="0.5"/>
<polygon points="457.1,572.9 462.0,569.3 466.9,572.9 468.9,578.7 465.0,582.7 460.1,581.7 457.5,577.8" fill="#9dc59f" stroke="#9dc59f" stroke-width="0.5"/>
<polygon points="451.3,578.7 455.2,578.4 455.6,581.7 451.6,582.3" fill="#9dc59f" stroke="#9dc59f" stroke-width="0.5"/>
<polygon points="453.2,602.3 456.2,598.4 463.0,595.4 469.9,594.4 469.9,602.3 466.9,604.6 456.2,604.6" fill="#9dc59f" stroke="#9dc59f" stroke-width="0.5"/>
<polygon points="395.4,568.9 399.3,568.9 399.3,572.9 395.4,572.9" fill="#9dc59f" stroke="#9dc59f" stroke-width="0.5"/>
<polygon points="375.8,524.8 385.6,524.8 385.6,533.6 375.8,533.6" fill="#2c8fd6" stroke="#2c8fd6" stroke-width="0.5"/>
</g></g></g>
<g filter="url(#rag2n)">
<polyline points="208.1,434.6 216.0,441.5 225.8,445.4 231.6,452.3 236.5,456.2" fill="none" stroke="#858585" stroke-width="1.1" stroke-linejoin="round" />
<polyline points="202.2,534.6 216.0,534.6 225.8,536.6 233.6,538.5 247.3,535.6 263.0,534.6" fill="none" stroke="#858585" stroke-width="1.1" stroke-linejoin="round" />
<polyline points="206.2,657.2 219.9,635.6 227.7,622.9 247.3,619.9 270.9,618.9 283.6,635.6 296.4,657.2" fill="none" stroke="#858585" stroke-width="1.1" stroke-linejoin="round" />
<polyline points="375.8,657.2 376.7,635.6 376.7,621.9 384.6,612.1" fill="none" stroke="#858585" stroke-width="1.1" stroke-linejoin="round" />
<polyline points="466.9,604.2 478.7,610.1 486.5,621.9 492.4,627.8 500.3,629.7 508.1,632.7 512.0,625.8 529.7,620.9 547.3,622.9 555.2,629.7 559.1,635.6 566.0,651.3" fill="none" stroke="#858585" stroke-width="1.1" stroke-linejoin="round" />
<polyline points="566.9,653.3 565.0,635.6 561.1,614.0 563.0,604.2 557.1,594.4 561.1,584.6 614.0,584.2" fill="none" stroke="#858585" stroke-width="1.1" stroke-linejoin="round" />
<polyline points="666.0,446.7 670.3,470.2 683.2,491.7 695.9,504.6 700.2,502.3 717.4,521.5 734.5,534.4 742.9,547.3" fill="none" stroke="#858585" stroke-width="1.1" stroke-linejoin="round" />
<polyline points="742.9,547.3 755.8,538.7 781.6,555.9 785.9,581.5 790.2,598.6 781.6,624.2 773.0,643.6" fill="none" stroke="#858585" stroke-width="1.1" stroke-linejoin="round" />
<polyline points="826.4,489.4 807.1,500.3 798.6,525.8 785.9,555.9" fill="none" stroke="#858585" stroke-width="1.1" stroke-linejoin="round" />
<polyline points="742.9,547.3 742.9,564.5 717.4,577.2 687.3,585.7" fill="none" stroke="#858585" stroke-width="1.1" stroke-linejoin="round" />
<polyline points="613.9,582.9 657.4,581.5 687.3,585.7 700.2,615.8 717.4,643.6" fill="none" stroke="#858585" stroke-width="1.1" stroke-linejoin="round" />
<polyline points="657.4,581.5 666.0,602.9 672.4,624.2 670.3,643.6" fill="none" stroke="#858585" stroke-width="1.1" stroke-linejoin="round" />
<polyline points="446.8,72.2 489.6,100.9" fill="none" stroke="#858585" stroke-width="1.1" stroke-linejoin="round" />
<polyline points="806.3,303.7 826.2,299.4" fill="none" stroke="#858585" stroke-width="1.1" stroke-linejoin="round" />
</g>
<polyline points="281.6,441.5 276.7,448.4 282.6,458.2 283.6,468.0 278.7,479.7 261.1,487.6 253.2,495.4 246.4,499.3" fill="none" stroke="#77756f" stroke-width="0.8" stroke-linejoin="round" />
<polyline points="261.1,487.6 272.8,501.3 278.7,511.1 282.6,516.0" fill="none" stroke="#77756f" stroke-width="0.8" stroke-linejoin="round" />
<polyline points="282.6,458.2 300.3,460.1 308.1,458.2 319.9,450.3 329.7,452.3 331.6,444.4 323.8,440.5" fill="none" stroke="#77756f" stroke-width="0.8" stroke-linejoin="round" />
<polyline points="308.1,458.2 308.1,475.8 316.0,469.9 339.5,468.0 351.3,469.9" fill="none" stroke="#77756f" stroke-width="0.8" stroke-linejoin="round" />
<polyline points="308.1,475.8 312.0,491.5 316.0,495.4 308.1,503.3 300.3,516.0" fill="none" stroke="#77756f" stroke-width="0.8" stroke-linejoin="round" />
<polyline points="376.7,468.0 390.5,469.9 414.0,473.8" fill="none" stroke="#77756f" stroke-width="0.8" stroke-linejoin="round" />
<polyline points="390.5,469.9 390.5,483.6 394.4,493.5 390.5,501.3 386.5,516.0" fill="none" stroke="#77756f" stroke-width="0.8" stroke-linejoin="round" />
<polyline points="343.4,430.7 347.3,448.4 359.1,452.3 366.9,452.3" fill="none" stroke="#77756f" stroke-width="0.8" stroke-linejoin="round" />
<polyline points="282.6,516.0 288.5,521.9 304.2,523.8 304.2,535.6 300.3,543.5" fill="none" stroke="#77756f" stroke-width="0.8" stroke-linejoin="round" />
<polyline points="349.3,537.6 363.0,541.5 370.9,549.3 374.8,561.1" fill="none" stroke="#77756f" stroke-width="0.8" stroke-linejoin="round" />
<polyline points="376.7,560.1 374.8,567.0 386.5,574.8 392.4,582.7 390.5,594.4 386.5,602.3 390.5,604.2" fill="none" stroke="#77756f" stroke-width="0.8" stroke-linejoin="round" />
<polyline points="410.1,537.6 412.0,547.4 414.0,551.3" fill="none" stroke="#77756f" stroke-width="0.8" stroke-linejoin="round" />
<polyline points="414.0,572.9 421.8,574.8 431.6,570.9 432.6,560.1" fill="none" stroke="#77756f" stroke-width="0.8" stroke-linejoin="round" />
<polyline points="431.6,570.9 437.5,580.7 443.4,588.5 443.4,594.4" fill="none" stroke="#77756f" stroke-width="0.8" stroke-linejoin="round" />
<polyline points="443.4,588.5 459.1,584.6 468.9,586.6" fill="none" stroke="#77756f" stroke-width="0.8" stroke-linejoin="round" />
<polyline points="451.3,543.5 465.0,551.3 476.7,555.2" fill="none" stroke="#77756f" stroke-width="0.8" stroke-linejoin="round" />
<polyline points="482.6,528.7 486.5,535.6 480.7,543.5 478.7,552.3" fill="none" stroke="#77756f" stroke-width="0.8" stroke-linejoin="round" />
<polyline points="414.0,468.0 421.8,471.9 427.7,465.0 443.4,467.0 445.4,479.7 451.3,485.6" fill="none" stroke="#77756f" stroke-width="0.8" stroke-linejoin="round" />
<polyline points="463.0,462.1 459.1,471.9 453.2,481.7 451.3,485.6 437.5,491.5 429.7,503.3 431.6,511.1 443.4,510.1 447.3,503.3 461.1,501.3 478.7,495.4 489.5,491.5" fill="none" stroke="#77756f" stroke-width="0.8" stroke-linejoin="round" />
<polyline points="482.6,438.5 500.3,440.5 506.2,446.4 519.9,440.5 526.7,442.5 525.8,428.7" fill="none" stroke="#77756f" stroke-width="0.8" stroke-linejoin="round" />
<polyline points="506.2,446.4 512.0,458.2 496.4,464.0 492.4,475.8 488.5,478.7" fill="none" stroke="#77756f" stroke-width="0.8" stroke-linejoin="round" />
<polyline points="526.7,442.5 527.7,452.3 523.8,464.0 517.9,475.8 516.0,483.6" fill="none" stroke="#77756f" stroke-width="0.8" stroke-linejoin="round" />
<polyline points="527.7,452.3 547.3,446.4 549.3,452.3 559.1,454.2 549.3,464.0 543.4,475.8 535.6,477.8 539.5,483.6 545.4,491.5 545.4,505.2" fill="none" stroke="#77756f" stroke-width="0.8" stroke-linejoin="round" />
<polyline points="523.8,479.7 535.6,477.8" fill="none" stroke="#77756f" stroke-width="0.8" stroke-linejoin="round" />
<polyline points="559.1,454.2 570.9,456.2 582.6,462.1" fill="none" stroke="#77756f" stroke-width="0.8" stroke-linejoin="round" />
<polyline points="535.6,410.1 559.1,408.2 561.1,412.1 559.1,413.1" fill="none" stroke="#77756f" stroke-width="0.8" stroke-linejoin="round" />
<polyline points="516.0,415.0 535.6,410.1 555.2,399.3" fill="none" stroke="#77756f" stroke-width="0.8" stroke-linejoin="round" />
<polyline points="541.5,368.4 548.1,389.7 568.9,387.6 572.8,377.8" fill="none" stroke="#77756f" stroke-width="0.8" stroke-linejoin="round" />
<polyline points="639.5,428.7 666.9,418.0 678.7,405.2 704.2,381.7 710.1,368.4" fill="none" stroke="#77756f" stroke-width="0.8" stroke-linejoin="round" />
<polyline points="634.6,387.6 653.2,389.5 672.8,368.4" fill="none" stroke="#77756f" stroke-width="0.8" stroke-linejoin="round" />
<polyline points="704.2,381.7 711.1,395.4 708.1,411.1 710.1,415.0 706.2,424.8 704.2,437.6" fill="none" stroke="#77756f" stroke-width="0.8" stroke-linejoin="round" />
<polyline points="666.9,418.0 674.8,430.7 682.6,442.5 681.6,447.4" fill="none" stroke="#77756f" stroke-width="0.8" stroke-linejoin="round" />
<polyline points="438.0,153.8 541.5,368.2" fill="none" stroke="#77756f" stroke-width="0.8" stroke-linejoin="round" />
<polyline points="706.7,253.8 708.0,296.6 692.0,310.1 689.4,326.0 675.9,338.1" fill="none" stroke="#77756f" stroke-width="0.8" stroke-linejoin="round" />
<polyline points="708.0,296.6 720.0,312.7 737.4,312.7 740.1,304.8 756.2,308.6 765.4,304.8" fill="none" stroke="#77756f" stroke-width="0.8" stroke-linejoin="round" />
<polyline points="720.0,312.7 726.8,334.0 728.0,342.2" fill="none" stroke="#77756f" stroke-width="0.8" stroke-linejoin="round" />
<polyline points="721.5,348.7 710.6,366.1 708.8,369.2" fill="none" stroke="#77756f" stroke-width="0.8" stroke-linejoin="round" />
<polyline points="721.5,350.2 675.9,360.8 672.0,369.2" fill="none" stroke="#77756f" stroke-width="0.8" stroke-linejoin="round" />
<polyline points="343.4,430.7 351.3,434.6 355.2,440.5 365.0,448.4 366.9,452.3 374.8,460.1 376.7,468.0 359.1,466.0 351.3,469.9 353.2,477.8 359.1,481.7 365.0,483.6 363.0,493.5 365.0,499.3 365.0,516.0 361.1,516.0 358.1,525.8 349.3,534.6" fill="none" stroke="#55524c" stroke-width="1.5" stroke-linejoin="round" />
<polyline points="437.5,429.7 432.6,444.4 437.5,458.2 429.7,466.0 421.8,475.8 419.9,487.6 423.8,499.3 417.9,507.2 414.0,510.1 410.1,515.0 414.0,516.0 412.0,527.8 417.9,537.6 414.0,547.4 414.0,551.3" fill="none" stroke="#55524c" stroke-width="1.5" stroke-linejoin="round" />
<polyline points="363.0,563.1 376.7,560.1 390.5,553.3 410.1,537.6 414.0,545.4 414.0,551.3 425.8,555.2 432.6,560.1 437.5,549.3 451.3,543.5 443.4,533.6 439.5,527.8 448.3,522.9 459.1,521.9 474.8,521.9 482.6,528.7 492.4,525.8 500.3,523.8 505.2,529.7" fill="none" stroke="#55524c" stroke-width="1.5" stroke-linejoin="round" />
<polyline points="480.7,430.7 478.7,442.5 466.9,450.3 463.0,462.1 472.8,469.9 480.7,477.8 488.5,478.7 489.5,491.5 500.3,493.5 516.0,483.6 519.9,499.3 510.1,511.1" fill="none" stroke="#55524c" stroke-width="1.5" stroke-linejoin="round" />
<polyline points="469.3,428.4 480.7,430.7 496.4,426.8 512.0,420.9 519.9,418.9 523.8,424.8 525.8,428.7 535.6,424.8 543.4,417.0 551.3,415.0 559.1,413.1 566.9,424.8 570.9,432.7 590.5,432.7 614.0,434.6 625.8,440.5 641.5,441.5" fill="none" stroke="#55524c" stroke-width="1.5" stroke-linejoin="round" />
<polyline points="641.5,441.5 637.5,424.8 633.6,405.2 634.6,380.7 614.0,378.7 602.2,376.8 602.2,368.4" fill="none" stroke="#55524c" stroke-width="1.5" stroke-linejoin="round" />
<polyline points="658.5,209.7 651.9,231.1 588.9,273.9 629.0,307.4 659.9,314.0 675.9,339.5 700.0,352.8 721.5,348.7 726.8,348.7 729.4,341.6 805.7,343.4" fill="none" stroke="#55524c" stroke-width="1.5" stroke-linejoin="round" />
<polyline points="629.0,307.4 627.8,342.2 601.0,359.6 604.3,369.0" fill="none" stroke="#55524c" stroke-width="1.5" stroke-linejoin="round" />
<polygon points="468.9,428.5 473.8,401.5 464.8,391.3 460.7,345.3 431.7,100.9 489.6,100.9 658.5,209.7 698.6,233.8 700.0,247.1 715.9,253.8 720.0,260.6 734.7,264.5 741.5,271.2 761.5,275.3 770.7,281.9 770.7,296.6 765.4,304.8 773.6,308.6 805.9,303.3 805.9,365.7 806.2,368.4 805.2,377.8 800.3,381.7 799.3,401.3 796.4,415.0 790.5,422.9 780.7,430.7 774.8,433.6 739.5,434.6 723.8,435.6 704.2,437.6 692.4,446.4 682.6,447.4 672.8,446.4 665.0,446.4 653.2,443.5 645.4,445.4 641.5,441.5 631.6,443.5 623.8,450.3 614.0,453.3 586.5,462.1 582.6,471.9 570.9,475.8 563.0,479.7 557.1,491.5 549.3,493.5 545.4,505.2 535.6,508.2 523.8,501.3 517.9,503.3 510.0,511.1 512.0,516.0 511.0,524.8 504.2,529.7 506.2,537.6 498.3,547.4 478.7,552.3 475.8,557.2 477.7,568.9 474.8,578.7 468.9,586.6 469.9,598.4 466.9,604.2 456.2,604.2 450.3,612.1 445.4,610.1 443.4,594.4 439.5,594.4 428.7,598.4 426.7,606.2 417.9,608.2 416.0,613.1 414.0,611.1 407.1,610.1 400.3,604.2 390.5,604.2 384.6,612.1 372.8,602.3 368.9,583.6 359.1,583.6 367.9,573.8 363.0,569.9 353.2,563.0 349.3,541.5 343.4,534.6 335.6,534.6 334.6,538.5 320.9,548.4 300.3,543.5 288.5,553.3 278.7,544.4 268.9,549.3 261.0,543.5 264.0,535.6 263.0,516.0 253.2,503.3 246.4,499.3 241.5,491.5 244.4,485.6 242.4,475.8 236.5,464.0 236.5,456.2 246.4,448.4 249.3,440.5 253.2,428.4 262.0,423.8 272.8,432.7 281.6,441.5 287.5,431.1 308.1,433.6 320.9,432.7 332.2,429.1 332.2,424.8 335.6,422.9 336.5,429.1" fill="none" stroke="#555049" stroke-width="1.7" stroke-linejoin="round"/>
</g>
<g clip-path="url(#fbig)">
<text x="314.4" y="391.9" font-size="9.3" fill="#9a9a9a" font-weight="normal" text-anchor="start" >MAURITANIA</text>
<text x="218.9" y="521.9" font-size="9.3" fill="#9a9a9a" font-weight="normal" text-anchor="start" >SENEGAL</text>
<text x="277.7" y="592.9" font-size="9.3" fill="#9a9a9a" font-weight="normal" text-anchor="start" >GUINEA</text>
<text x="402.3" y="628.7" font-size="9.3" fill="#9a9a9a" font-weight="normal" text-anchor="start" >IVORY COAST</text>
<text x="543.0" y="550.3" font-size="9.3" fill="#9a9a9a" font-weight="normal" text-anchor="start" >BURKINA FASO</text>
<text x="573.8" y="618.4" font-size="9.3" fill="#9a9a9a" font-weight="normal" text-anchor="start" >GHANA</text>
</g>
<rect x="621" y="474.7" width="198.3" height="161.9" fill="#fff"/>
<text x="630.5" y="495.4" font-size="13" fill="#444" font-weight="bold" text-anchor="start" >Vulnerability is Composed of</text>
<text x="630.5" y="510.4" font-size="13" fill="#444" font-weight="bold" text-anchor="start" >Exposure, Sensitivity, and</text>
<text x="630.5" y="525.5" font-size="13" fill="#444" font-weight="bold" text-anchor="start" >Lack of Adaptive Capacity</text>
<rect x="630" y="540.9" width="23.3" height="11.8" fill="#ec1717" stroke="#555" stroke-width="1.3"/>
<text x="663.0" y="551.2" font-size="13" fill="#444" font-weight="normal" text-anchor="start" >81 - 100</text>
<rect x="630" y="559.3" width="23.3" height="11.8" fill="#fb8c33" stroke="#555" stroke-width="1.3"/>
<text x="663.0" y="569.6" font-size="13" fill="#444" font-weight="normal" text-anchor="start" >61 - 80</text>
<rect x="630" y="577.6" width="23.3" height="11.8" fill="#fdfb66" stroke="#555" stroke-width="1.3"/>
<text x="663.0" y="587.9" font-size="13" fill="#444" font-weight="normal" text-anchor="start" >41 - 60</text>
<rect x="630" y="596.0" width="23.3" height="11.8" fill="#9dc59f" stroke="#555" stroke-width="1.3"/>
<text x="663.0" y="606.3" font-size="13" fill="#444" font-weight="normal" text-anchor="start" >21 - 40</text>
<rect x="630" y="614.3" width="23.3" height="11.8" fill="#2c8fd6" stroke="#555" stroke-width="1.3"/>
<text x="663.0" y="624.6" font-size="13" fill="#444" font-weight="normal" text-anchor="start" >0 - 20</text>
<rect x="720.4" y="540.9" width="23.1" height="11.8" fill="#fff" stroke="#555" stroke-width="1.3"/>
<rect x="720.4" y="559.3" width="23.1" height="11.8" fill="#fff" stroke="#aaa" stroke-width="0.8"/>
<text x="753.4" y="551.2" font-size="13" fill="#444" font-weight="normal" text-anchor="start" >Region</text>
<text x="753.4" y="569.6" font-size="13" fill="#444" font-weight="normal" text-anchor="start" >Circle</text>
<defs><filter id="bl" x="-20%" y="-20%" width="140%" height="140%"><feGaussianBlur stdDeviation="3"/></filter><filter id="bl2" x="-5%" y="-5%" width="110%" height="110%"><feGaussianBlur stdDeviation="0.8"/></filter>
<linearGradient id="gsl" x1="0" y1="0" x2="1" y2="0.6"><stop offset="0" stop-color="#3a3a3a"/><stop offset="0.45" stop-color="#666"/><stop offset="0.7" stop-color="#8a8a8a"/><stop offset="1" stop-color="#777"/></linearGradient>
<linearGradient id="gsr" x1="0" y1="0" x2="1" y2="0"><stop offset="0" stop-color="#a8a8a8"/><stop offset="0.35" stop-color="#b0b0b0"/><stop offset="0.6" stop-color="#a0a0a0"/><stop offset="1" stop-color="#777"/></linearGradient></defs>
<clipPath id="fsl"><rect x="216.0" y="636.8" width="299.8" height="122.8"/></clipPath>
<clipPath id="msl"><polygon points="334.1,656.9 336.4,644.5 332.2,639.8 330.3,618.6 317.0,505.9 343.6,505.9 421.5,556.1 440.0,567.2 440.6,573.3 448.0,576.4 449.9,579.5 456.6,581.3 459.8,584.4 469.0,586.3 473.2,589.3 473.2,596.1 470.8,599.9 474.6,601.6 489.5,599.2 489.5,628.0 489.6,629.2 489.1,633.6 486.9,635.3 486.4,644.4 485.1,650.7 482.4,654.3 477.8,657.9 475.1,659.3 458.8,659.7 451.6,660.2 442.6,661.1 437.1,665.2 432.6,665.6 428.1,665.2 424.5,665.2 419.1,663.8 415.5,664.7 413.7,662.9 409.1,663.8 405.5,667.0 401.0,668.4 388.3,672.4 386.5,676.9 381.1,678.7 377.5,680.5 374.8,686.0 371.2,686.9 369.4,692.3 364.8,693.7 359.4,690.5 356.7,691.4 353.0,695.0 354.0,697.3 353.5,701.3 350.4,703.6 351.3,707.2 347.7,711.7 338.6,714.0 337.3,716.3 338.2,721.6 336.8,726.2 334.1,729.8 334.6,735.2 333.2,737.9 328.2,737.9 325.5,741.6 323.3,740.6 322.3,733.4 320.5,733.4 315.6,735.2 314.6,738.8 310.6,739.8 309.7,742.0 308.8,741.1 305.6,740.6 302.5,737.9 298.0,737.9 295.2,741.6 289.8,737.0 288.0,728.4 283.5,728.4 287.5,723.9 285.3,722.1 280.8,718.9 279.0,709.0 276.2,705.8 272.6,705.8 272.2,707.6 265.9,712.2 256.4,709.9 250.9,714.5 246.4,710.4 241.9,712.6 238.3,709.9 239.6,706.3 239.2,697.3 234.7,691.4 231.5,689.6 229.3,686.0 230.6,683.2 229.7,678.7 227.0,673.3 227.0,669.7 231.5,666.1 232.9,662.5 234.7,656.9 238.7,654.8 243.7,658.9 247.8,662.9 250.5,658.1 260.0,659.3 265.9,658.9 271.1,657.2 271.1,655.2 272.6,654.3 273.1,657.2"/></clipPath>
<g clip-path="url(#fsl)">
<rect x="216.0" y="636.8" width="299.8" height="122.8" fill="#dedede"/>
<g clip-path="url(#msl)">
<rect x="216.0" y="636.8" width="299.8" height="122.8" fill="#4c4c4c"/>
<g filter="url(#bl)">
<ellipse cx="372.0" cy="656.0" rx="22.0" ry="14.0" fill="#8a8a8a" opacity="1"/>
<ellipse cx="401.0" cy="652.0" rx="20.0" ry="12.0" fill="#8e8e8e" opacity="1"/>
<ellipse cx="440.0" cy="648.0" rx="22.0" ry="10.0" fill="#858585" opacity="1"/>
<ellipse cx="472.0" cy="646.0" rx="14.0" ry="10.0" fill="#6a6a6a" opacity="1"/>
<ellipse cx="325.0" cy="675.0" rx="14.0" ry="12.0" fill="#7c7c7c" opacity="1"/>
<ellipse cx="302.0" cy="724.0" rx="13.0" ry="11.0" fill="#8e8e8e" opacity="1"/>
<ellipse cx="350.0" cy="668.0" rx="10.0" ry="10.0" fill="#8a8a8a" opacity="0.9"/>
<ellipse cx="262.0" cy="680.0" rx="22.0" ry="16.0" fill="#404040" opacity="1"/>
<ellipse cx="245.0" cy="690.0" rx="10.0" ry="14.0" fill="#3a3a3a" opacity="1"/>
<ellipse cx="333.0" cy="713.0" rx="13.0" ry="14.0" fill="#fff" opacity="1"/>
<ellipse cx="341.0" cy="695.0" rx="9.0" ry="9.0" fill="#fff" opacity="1"/>
<ellipse cx="327.0" cy="730.0" rx="8.0" ry="7.0" fill="#f0f0f0" opacity="1"/>
<ellipse cx="352.0" cy="690.0" rx="6.0" ry="8.0" fill="#e0e0e0" opacity="0.9"/>
<ellipse cx="320.0" cy="700.0" rx="6.0" ry="6.0" fill="#ddd" opacity="0.8"/>
<ellipse cx="238.5" cy="659.0" rx="5.0" ry="6.0" fill="#000" opacity="1"/>
<ellipse cx="250.0" cy="711.5" rx="6.0" ry="4.5" fill="#000" opacity="1"/>
<ellipse cx="284.5" cy="700.0" rx="3.5" ry="6.0" fill="#000" opacity="1"/>
<ellipse cx="283.5" cy="722.0" rx="3.0" ry="6.0" fill="#000" opacity="0.9"/>
<ellipse cx="298.0" cy="659.0" rx="24.0" ry="4.5" fill="#000" opacity="1"/>
<ellipse cx="337.0" cy="642.0" rx="9.0" ry="7.0" fill="#000" opacity="1"/>
<ellipse cx="325.0" cy="658.0" rx="12.0" ry="5.0" fill="#222" opacity="0.8"/>
<ellipse cx="232.0" cy="676.0" rx="4.0" ry="8.0" fill="#222" opacity="0.8"/>
<ellipse cx="300.0" cy="690.0" rx="6.0" ry="5.0" fill="#333" opacity="0.8"/>
<ellipse cx="484.0" cy="645.0" rx="5.0" ry="9.0" fill="#444" opacity="0.8"/>
</g>
<g filter="url(#bl2)" fill="#e4e4e4">
<circle cx="235.4" cy="688.9" r="1.8" opacity="0.77"/>
<circle cx="458.6" cy="651.9" r="1.4" opacity="0.57"/>
<circle cx="367.2" cy="700.3" r="1.0" opacity="0.56"/>
<circle cx="424.0" cy="656.8" r="1.7" opacity="0.52"/>
<circle cx="386.1" cy="653.3" r="1.0" opacity="0.89"/>
<circle cx="281.6" cy="662.6" r="1.9" opacity="0.89"/>
<circle cx="302.1" cy="741.0" r="1.5" opacity="0.79"/>
<circle cx="320.5" cy="657.4" r="1.1" opacity="0.48"/>
<circle cx="305.1" cy="703.3" r="1.0" opacity="0.79"/>
<circle cx="314.5" cy="672.5" r="1.7" opacity="0.69"/>
<circle cx="308.8" cy="690.5" r="1.6" opacity="0.48"/>
<circle cx="477.6" cy="642.4" r="1.7" opacity="0.87"/>
<circle cx="321.7" cy="700.7" r="1.0" opacity="0.47"/>
<circle cx="316.2" cy="677.3" r="1.5" opacity="0.84"/>
<circle cx="251.3" cy="675.8" r="1.5" opacity="0.91"/>
<circle cx="315.0" cy="737.0" r="1.5" opacity="0.61"/>
<circle cx="309.1" cy="658.6" r="1.1" opacity="0.52"/>
<circle cx="331.9" cy="664.9" r="1.5" opacity="0.86"/>
<circle cx="344.7" cy="684.3" r="1.1" opacity="0.91"/>
<circle cx="236.4" cy="691.8" r="1.8" opacity="0.52"/>
<circle cx="255.3" cy="685.6" r="1.1" opacity="0.87"/>
<circle cx="303.5" cy="687.6" r="1.9" opacity="0.88"/>
<circle cx="350.6" cy="670.6" r="1.4" opacity="0.52"/>
<circle cx="355.8" cy="675.5" r="1.1" opacity="0.59"/>
<circle cx="320.5" cy="722.5" r="1.7" opacity="0.80"/>
<circle cx="321.0" cy="714.0" r="1.3" opacity="0.69"/>
<circle cx="303.2" cy="739.3" r="1.6" opacity="0.74"/>
<circle cx="231.0" cy="697.4" r="1.2" opacity="0.79"/>
<circle cx="317.1" cy="707.6" r="1.7" opacity="0.86"/>
<circle cx="317.6" cy="728.5" r="1.8" opacity="0.79"/>
<circle cx="360.6" cy="695.6" r="1.1" opacity="0.87"/>
<circle cx="415.0" cy="658.0" r="1.7" opacity="0.74"/>
<circle cx="398.4" cy="684.2" r="1.6" opacity="0.84"/>
<circle cx="389.5" cy="644.4" r="1.4" opacity="0.56"/>
<circle cx="309.2" cy="659.1" r="1.2" opacity="0.47"/>
<circle cx="347.1" cy="679.9" r="1.6" opacity="0.75"/>
<circle cx="228.2" cy="682.6" r="1.3" opacity="0.66"/>
<circle cx="323.7" cy="643.8" r="1.6" opacity="0.50"/>
<circle cx="367.6" cy="675.6" r="1.5" opacity="0.93"/>
<circle cx="322.6" cy="654.9" r="1.5" opacity="0.73"/>
<circle cx="383.8" cy="676.9" r="1.8" opacity="0.45"/>
<circle cx="255.6" cy="699.4" r="1.6" opacity="0.52"/>
<circle cx="324.2" cy="685.3" r="1.2" opacity="0.60"/>
<circle cx="380.5" cy="667.3" r="1.9" opacity="0.70"/>
<circle cx="334.4" cy="673.5" r="1.9" opacity="0.70"/>
<circle cx="301.3" cy="690.1" r="1.1" opacity="0.76"/>
<circle cx="341.5" cy="670.8" r="1.7" opacity="0.86"/>
<circle cx="231.4" cy="695.9" r="1.2" opacity="0.92"/>
<circle cx="428.2" cy="665.8" r="1.2" opacity="0.53"/>
<circle cx="383.7" cy="689.8" r="1.6" opacity="0.75"/>
<circle cx="418.3" cy="652.4" r="1.7" opacity="0.60"/>
<circle cx="364.6" cy="675.3" r="1.3" opacity="0.71"/>
<circle cx="346.9" cy="677.9" r="1.7" opacity="0.75"/>
<circle cx="237.3" cy="666.5" r="1.4" opacity="0.91"/>
<circle cx="326.7" cy="681.1" r="1.8" opacity="0.55"/>
<circle cx="303.9" cy="727.2" r="1.1" opacity="0.87"/>
<circle cx="405.8" cy="685.4" r="1.3" opacity="0.84"/>
<circle cx="461.1" cy="655.0" r="1.4" opacity="0.72"/>
<circle cx="355.4" cy="674.7" r="1.1" opacity="0.74"/>
<circle cx="435.8" cy="647.2" r="1.2" opacity="0.86"/>
<circle cx="407.5" cy="645.1" r="1.8" opacity="0.56"/>
<circle cx="410.4" cy="654.1" r="1.3" opacity="0.91"/>
<circle cx="266.3" cy="704.1" r="1.4" opacity="0.53"/>
<circle cx="387.3" cy="644.6" r="1.1" opacity="0.64"/>
<circle cx="452.9" cy="654.1" r="1.4" opacity="0.61"/>
<circle cx="381.7" cy="691.4" r="1.8" opacity="0.64"/>
<circle cx="266.7" cy="706.3" r="1.5" opacity="0.91"/>
<circle cx="295.4" cy="697.9" r="1.2" opacity="0.83"/>
<circle cx="360.4" cy="654.0" r="1.2" opacity="0.64"/>
<circle cx="416.6" cy="658.8" r="1.6" opacity="0.78"/>
<circle cx="249.8" cy="710.1" r="1.1" opacity="0.51"/>
<circle cx="380.1" cy="665.1" r="1.8" opacity="0.69"/>
<circle cx="310.8" cy="723.6" r="1.0" opacity="0.81"/>
<circle cx="438.1" cy="654.7" r="1.6" opacity="0.63"/>
<circle cx="288.2" cy="675.0" r="1.6" opacity="0.62"/>
<circle cx="326.8" cy="654.3" r="1.7" opacity="0.77"/>
<circle cx="379.7" cy="700.2" r="1.7" opacity="0.65"/>
<circle cx="422.6" cy="640.0" r="1.4" opacity="0.89"/>
<circle cx="386.6" cy="685.0" r="1.4" opacity="0.50"/>
<circle cx="323.9" cy="680.5" r="1.8" opacity="0.53"/>
<circle cx="293.0" cy="669.1" r="1.1" opacity="0.59"/>
<circle cx="288.2" cy="690.6" r="1.0" opacity="0.91"/>
<circle cx="322.5" cy="738.5" r="1.6" opacity="0.79"/>
<circle cx="348.8" cy="739.3" r="1.1" opacity="0.78"/>
<circle cx="302.5" cy="710.8" r="1.7" opacity="0.53"/>
<circle cx="321.2" cy="672.7" r="1.4" opacity="0.59"/>
<circle cx="269.8" cy="665.3" r="1.6" opacity="0.92"/>
<circle cx="393.3" cy="685.2" r="1.9" opacity="0.45"/>
<circle cx="333.0" cy="644.7" r="1.5" opacity="0.94"/>
<circle cx="360.8" cy="676.8" r="1.1" opacity="0.49"/>
<circle cx="467.5" cy="645.6" r="1.2" opacity="0.48"/>
<circle cx="329.7" cy="646.3" r="1.2" opacity="0.65"/>
<circle cx="306.3" cy="645.4" r="1.0" opacity="0.94"/>
<circle cx="273.9" cy="693.4" r="1.4" opacity="0.72"/>
<circle cx="249.6" cy="673.0" r="1.1" opacity="0.72"/>
<circle cx="447.3" cy="662.5" r="1.0" opacity="0.72"/>
<circle cx="352.6" cy="700.0" r="1.3" opacity="0.76"/>
<circle cx="306.7" cy="687.1" r="1.7" opacity="0.56"/>
<circle cx="257.6" cy="672.7" r="1.1" opacity="0.84"/>
<circle cx="437.8" cy="672.9" r="1.1" opacity="0.49"/>
<circle cx="407.4" cy="645.0" r="1.2" opacity="0.59"/>
<circle cx="323.7" cy="650.3" r="1.4" opacity="0.61"/>
<circle cx="325.9" cy="653.7" r="1.1" opacity="0.53"/>
<circle cx="295.2" cy="711.0" r="1.3" opacity="0.48"/>
<circle cx="261.3" cy="677.5" r="1.8" opacity="0.92"/>
<circle cx="384.7" cy="664.3" r="1.4" opacity="0.63"/>
<circle cx="414.1" cy="650.0" r="1.5" opacity="0.54"/>
<circle cx="409.6" cy="686.9" r="1.8" opacity="0.85"/>
<circle cx="258.3" cy="673.3" r="1.8" opacity="0.68"/>
<circle cx="339.1" cy="686.3" r="1.7" opacity="0.92"/>
<circle cx="380.6" cy="650.9" r="1.7" opacity="0.66"/>
<circle cx="236.4" cy="700.6" r="1.4" opacity="0.89"/>
<circle cx="328.5" cy="662.6" r="1.2" opacity="0.55"/>
<circle cx="372.0" cy="677.5" r="1.7" opacity="0.57"/>
<circle cx="318.1" cy="666.1" r="1.9" opacity="0.87"/>
<circle cx="330.6" cy="655.0" r="1.7" opacity="0.70"/>
<circle cx="458.4" cy="660.9" r="1.7" opacity="0.61"/>
<circle cx="359.0" cy="701.6" r="1.2" opacity="0.64"/>
<circle cx="309.2" cy="642.8" r="1.3" opacity="0.64"/>
<circle cx="320.9" cy="702.3" r="1.6" opacity="0.71"/>
<circle cx="300.7" cy="648.2" r="1.1" opacity="0.63"/>
<circle cx="410.9" cy="672.2" r="1.8" opacity="0.59"/>
<circle cx="411.3" cy="647.6" r="1.7" opacity="0.78"/>
<circle cx="281.4" cy="694.3" r="1.8" opacity="0.57"/>
<circle cx="327.9" cy="658.7" r="1.6" opacity="0.90"/>
<circle cx="327.0" cy="651.4" r="1.6" opacity="0.73"/>
<circle cx="411.1" cy="679.3" r="1.8" opacity="0.56"/>
<circle cx="306.2" cy="668.1" r="1.6" opacity="0.90"/>
<circle cx="270.9" cy="706.4" r="1.7" opacity="0.56"/>
<circle cx="244.0" cy="699.4" r="1.7" opacity="0.89"/>
<circle cx="414.4" cy="683.8" r="1.4" opacity="0.71"/>
<circle cx="299.9" cy="703.6" r="1.9" opacity="0.54"/>
<circle cx="372.0" cy="703.4" r="1.2" opacity="0.55"/>
<circle cx="243.7" cy="690.9" r="1.8" opacity="0.93"/>
<circle cx="309.5" cy="729.3" r="1.6" opacity="0.91"/>
<circle cx="253.8" cy="660.3" r="1.1" opacity="0.50"/>
<circle cx="266.9" cy="704.7" r="1.1" opacity="0.83"/>
<circle cx="244.5" cy="661.7" r="1.3" opacity="0.68"/>
<circle cx="249.4" cy="682.3" r="1.5" opacity="0.64"/>
<circle cx="258.1" cy="702.7" r="1.3" opacity="0.79"/>
<circle cx="469.9" cy="647.6" r="1.7" opacity="0.81"/>
<circle cx="303.8" cy="652.3" r="1.4" opacity="0.63"/>
<circle cx="325.8" cy="670.5" r="1.4" opacity="0.80"/>
<circle cx="303.8" cy="675.4" r="1.8" opacity="0.71"/>
<circle cx="240.9" cy="684.2" r="1.2" opacity="0.78"/>
<circle cx="246.8" cy="668.5" r="1.1" opacity="0.69"/>
<circle cx="326.9" cy="738.1" r="1.1" opacity="0.63"/>
<circle cx="435.6" cy="640.5" r="1.7" opacity="0.63"/>
<circle cx="232.2" cy="666.3" r="1.4" opacity="0.64"/>
<circle cx="360.3" cy="645.6" r="1.2" opacity="0.94"/>
<circle cx="341.3" cy="689.5" r="1.1" opacity="0.59"/>
<circle cx="358.0" cy="645.6" r="1.4" opacity="0.84"/>
<circle cx="390.8" cy="643.8" r="1.0" opacity="0.83"/>
<circle cx="335.9" cy="668.4" r="1.4" opacity="0.59"/>
<circle cx="398.6" cy="653.0" r="1.2" opacity="0.68"/>
<circle cx="246.9" cy="680.0" r="1.8" opacity="0.89"/>
<circle cx="381.3" cy="654.3" r="1.2" opacity="0.91"/>
<circle cx="468.0" cy="643.3" r="1.2" opacity="0.66"/>
<circle cx="266.9" cy="694.4" r="1.9" opacity="0.80"/>
<circle cx="392.7" cy="679.4" r="1.3" opacity="0.69"/>
<circle cx="289.7" cy="699.7" r="1.2" opacity="0.72"/>
<circle cx="415.3" cy="654.0" r="1.4" opacity="0.80"/>
<circle cx="242.4" cy="692.6" r="1.0" opacity="0.64"/>
<circle cx="316.5" cy="642.2" r="1.3" opacity="0.68"/>
<circle cx="305.3" cy="657.5" r="1.8" opacity="0.49"/>
<circle cx="363.4" cy="680.8" r="1.8" opacity="0.60"/>
<circle cx="263.3" cy="676.9" r="1.4" opacity="0.73"/>
<circle cx="281.1" cy="687.7" r="1.1" opacity="0.49"/>
<circle cx="315.6" cy="655.1" r="1.9" opacity="0.58"/>
<circle cx="417.7" cy="667.5" r="1.7" opacity="0.76"/>
<circle cx="290.9" cy="667.7" r="1.8" opacity="0.67"/>
<circle cx="457.7" cy="658.6" r="1.1" opacity="0.48"/>
<circle cx="451.1" cy="644.2" r="1.5" opacity="0.51"/>
<circle cx="384.7" cy="663.3" r="1.9" opacity="0.51"/>
<circle cx="244.4" cy="711.8" r="1.1" opacity="0.48"/>
<circle cx="245.8" cy="707.5" r="1.8" opacity="0.51"/>
<circle cx="421.2" cy="667.2" r="1.3" opacity="0.45"/>
<circle cx="267.8" cy="662.7" r="1.2" opacity="0.92"/>
<circle cx="318.3" cy="648.3" r="1.4" opacity="0.76"/>
<circle cx="394.6" cy="658.4" r="1.1" opacity="0.70"/>
<circle cx="403.9" cy="687.0" r="1.5" opacity="0.91"/>
<circle cx="265.1" cy="668.1" r="1.4" opacity="0.72"/>
<circle cx="397.6" cy="684.1" r="1.7" opacity="0.87"/>
<circle cx="303.2" cy="651.3" r="1.2" opacity="0.63"/>
<circle cx="472.8" cy="652.2" r="1.7" opacity="0.62"/>
<circle cx="254.4" cy="706.4" r="1.8" opacity="0.74"/>
<circle cx="413.3" cy="667.4" r="1.4" opacity="0.61"/>
<circle cx="411.5" cy="683.1" r="1.8" opacity="0.48"/>
<circle cx="305.2" cy="658.9" r="1.8" opacity="0.85"/>
<circle cx="254.7" cy="683.7" r="1.2" opacity="0.46"/>
</g>
</g>
<g filter="url(#rag1n)">
<polyline points="213.9,659.7 217.5,662.9 222.0,664.7 224.7,667.9 227.0,669.7" fill="none" stroke="#858585" stroke-width="0.8" stroke-linejoin="round" />
<polyline points="211.2,705.8 217.5,705.8 222.0,706.8 225.6,707.6 231.9,706.3 239.2,705.8" fill="none" stroke="#858585" stroke-width="0.8" stroke-linejoin="round" />
<polyline points="213.0,762.4 219.3,752.4 222.9,746.5 231.9,745.2 242.8,744.7 248.7,752.4 254.6,762.4" fill="none" stroke="#858585" stroke-width="0.8" stroke-linejoin="round" />
<polyline points="291.2,762.4 291.6,752.4 291.6,746.1 295.2,741.6" fill="none" stroke="#858585" stroke-width="0.8" stroke-linejoin="round" />
<polyline points="333.2,737.9 338.6,740.6 342.2,746.1 344.9,748.8 348.6,749.7 352.2,751.1 354.0,747.9 362.1,745.6 370.2,746.5 373.9,749.7 375.7,752.4 378.9,759.6" fill="none" stroke="#858585" stroke-width="0.8" stroke-linejoin="round" />
<polyline points="379.3,760.6 378.4,752.4 376.6,742.4 377.5,737.9 374.8,733.4 376.6,728.9 401.0,728.7" fill="none" stroke="#858585" stroke-width="0.8" stroke-linejoin="round" />
<polyline points="425.0,665.3 426.9,676.1 432.9,686.1 438.7,692.0 440.7,690.9 448.7,699.8 456.5,705.7 460.4,711.7" fill="none" stroke="#858585" stroke-width="0.8" stroke-linejoin="round" />
<polyline points="460.4,711.7 466.4,707.7 478.3,715.7 480.2,727.5 482.2,735.3 478.3,747.1 474.3,756.1" fill="none" stroke="#858585" stroke-width="0.8" stroke-linejoin="round" />
<polyline points="498.9,685.0 490.0,690.0 486.1,701.8 480.2,715.7" fill="none" stroke="#858585" stroke-width="0.8" stroke-linejoin="round" />
<polyline points="460.4,711.7 460.4,719.6 448.7,725.5 434.8,729.4" fill="none" stroke="#858585" stroke-width="0.8" stroke-linejoin="round" />
<polyline points="400.9,728.1 421.0,727.5 434.8,729.4 440.7,743.3 448.7,756.1" fill="none" stroke="#858585" stroke-width="0.8" stroke-linejoin="round" />
<polyline points="421.0,727.5 425.0,737.3 427.9,747.1 426.9,756.1" fill="none" stroke="#858585" stroke-width="0.8" stroke-linejoin="round" />
<polyline points="323.9,492.7 343.6,505.9" fill="none" stroke="#858585" stroke-width="0.8" stroke-linejoin="round" />
<polyline points="489.6,599.4 498.8,597.4" fill="none" stroke="#858585" stroke-width="0.8" stroke-linejoin="round" />
</g>
<polyline points="247.8,662.9 245.5,666.1 248.2,670.6 248.7,675.1 246.4,680.5 238.3,684.2 234.7,687.8 231.5,689.6" fill="none" stroke="#505050" stroke-width="0.65" stroke-linejoin="round" />
<polyline points="238.3,684.2 243.7,690.5 246.4,695.0 248.2,697.3" fill="none" stroke="#505050" stroke-width="0.65" stroke-linejoin="round" />
<polyline points="248.2,670.6 256.4,671.5 260.0,670.6 265.4,667.0 269.9,667.9 270.8,664.3 267.2,662.5" fill="none" stroke="#505050" stroke-width="0.65" stroke-linejoin="round" />
<polyline points="260.0,670.6 260.0,678.7 263.6,676.0 274.4,675.1 279.9,676.0" fill="none" stroke="#505050" stroke-width="0.65" stroke-linejoin="round" />
<polyline points="260.0,678.7 261.8,686.0 263.6,687.8 260.0,691.4 256.4,697.3" fill="none" stroke="#505050" stroke-width="0.65" stroke-linejoin="round" />
<polyline points="291.6,675.1 298.0,676.0 308.8,677.8" fill="none" stroke="#505050" stroke-width="0.65" stroke-linejoin="round" />
<polyline points="298.0,676.0 298.0,682.3 299.8,686.9 298.0,690.5 296.1,697.3" fill="none" stroke="#505050" stroke-width="0.65" stroke-linejoin="round" />
<polyline points="276.2,657.9 278.0,666.1 283.5,667.9 287.1,667.9" fill="none" stroke="#505050" stroke-width="0.65" stroke-linejoin="round" />
<polyline points="248.2,697.3 250.9,700.0 258.2,700.9 258.2,706.3 256.4,709.9" fill="none" stroke="#505050" stroke-width="0.65" stroke-linejoin="round" />
<polyline points="279.0,707.2 285.3,709.0 288.9,712.6 290.7,718.1" fill="none" stroke="#505050" stroke-width="0.65" stroke-linejoin="round" />
<polyline points="291.6,717.6 290.7,720.8 296.1,724.4 298.8,728.0 298.0,733.4 296.1,737.0 298.0,737.9" fill="none" stroke="#505050" stroke-width="0.65" stroke-linejoin="round" />
<polyline points="307.0,707.2 307.9,711.7 308.8,713.5" fill="none" stroke="#505050" stroke-width="0.65" stroke-linejoin="round" />
<polyline points="308.8,723.5 312.4,724.4 316.9,722.6 317.4,717.6" fill="none" stroke="#505050" stroke-width="0.65" stroke-linejoin="round" />
<polyline points="316.9,722.6 319.6,727.1 322.3,730.7 322.3,733.4" fill="none" stroke="#505050" stroke-width="0.65" stroke-linejoin="round" />
<polyline points="322.3,730.7 329.6,728.9 334.1,729.8" fill="none" stroke="#505050" stroke-width="0.65" stroke-linejoin="round" />
<polyline points="326.0,709.9 332.3,713.5 337.7,715.3" fill="none" stroke="#505050" stroke-width="0.65" stroke-linejoin="round" />
<polyline points="340.4,703.1 342.2,706.3 339.5,709.9 338.6,714.0" fill="none" stroke="#505050" stroke-width="0.65" stroke-linejoin="round" />
<polyline points="308.8,675.1 312.4,676.9 315.1,673.7 322.3,674.7 323.3,680.5 326.0,683.2" fill="none" stroke="#505050" stroke-width="0.65" stroke-linejoin="round" />
<polyline points="331.4,672.4 329.6,676.9 326.9,681.4 326.0,683.2 319.6,686.0 316.0,691.4 316.9,695.0 322.3,694.5 324.1,691.4 330.5,690.5 338.6,687.8 343.6,686.0" fill="none" stroke="#505050" stroke-width="0.65" stroke-linejoin="round" />
<polyline points="340.4,661.5 348.6,662.5 351.3,665.2 357.6,662.5 360.7,663.4 360.3,657.0" fill="none" stroke="#505050" stroke-width="0.65" stroke-linejoin="round" />
<polyline points="351.3,665.2 354.0,670.6 346.8,673.3 344.9,678.7 343.1,680.1" fill="none" stroke="#505050" stroke-width="0.65" stroke-linejoin="round" />
<polyline points="360.7,663.4 361.2,667.9 359.4,673.3 356.7,678.7 355.8,682.3" fill="none" stroke="#505050" stroke-width="0.65" stroke-linejoin="round" />
<polyline points="361.2,667.9 370.2,665.2 371.2,667.9 375.7,668.8 371.2,673.3 368.4,678.7 364.8,679.7 366.6,682.3 369.4,686.0 369.4,692.3" fill="none" stroke="#505050" stroke-width="0.65" stroke-linejoin="round" />
<polyline points="359.4,680.5 364.8,679.7" fill="none" stroke="#505050" stroke-width="0.65" stroke-linejoin="round" />
<polyline points="375.7,668.8 381.1,669.7 386.5,672.4" fill="none" stroke="#505050" stroke-width="0.65" stroke-linejoin="round" />
<polyline points="364.8,648.4 375.7,647.6 376.6,649.4 375.7,649.8" fill="none" stroke="#505050" stroke-width="0.65" stroke-linejoin="round" />
<polyline points="355.8,650.7 364.8,648.4 373.9,643.5" fill="none" stroke="#505050" stroke-width="0.65" stroke-linejoin="round" />
<polyline points="367.6,629.2 370.6,639.0 380.2,638.1 382.0,633.6" fill="none" stroke="#505050" stroke-width="0.65" stroke-linejoin="round" />
<polyline points="412.7,657.0 425.4,652.1 430.8,646.2 442.6,635.3 445.3,629.2" fill="none" stroke="#505050" stroke-width="0.65" stroke-linejoin="round" />
<polyline points="410.5,638.1 419.1,638.9 428.1,629.2" fill="none" stroke="#505050" stroke-width="0.65" stroke-linejoin="round" />
<polyline points="442.6,635.3 445.8,641.7 444.4,648.9 445.3,650.7 443.5,655.2 442.6,661.1" fill="none" stroke="#505050" stroke-width="0.65" stroke-linejoin="round" />
<polyline points="425.4,652.1 429.0,657.9 432.6,663.4 432.2,665.6" fill="none" stroke="#505050" stroke-width="0.65" stroke-linejoin="round" />
<polyline points="319.9,530.3 367.6,629.1" fill="none" stroke="#505050" stroke-width="0.65" stroke-linejoin="round" />
<polyline points="443.7,576.4 444.3,596.1 436.9,602.3 435.8,609.7 429.5,615.2" fill="none" stroke="#505050" stroke-width="0.65" stroke-linejoin="round" />
<polyline points="444.3,596.1 449.9,603.5 457.9,603.5 459.1,599.9 466.5,601.6 470.8,599.9" fill="none" stroke="#505050" stroke-width="0.65" stroke-linejoin="round" />
<polyline points="449.9,603.5 453.0,613.4 453.5,617.1" fill="none" stroke="#505050" stroke-width="0.65" stroke-linejoin="round" />
<polyline points="450.5,620.1 445.5,628.2 444.7,629.6" fill="none" stroke="#505050" stroke-width="0.65" stroke-linejoin="round" />
<polyline points="450.5,620.8 429.5,625.7 427.7,629.6" fill="none" stroke="#505050" stroke-width="0.65" stroke-linejoin="round" />
<polyline points="276.2,657.9 279.9,659.7 281.7,662.5 286.2,666.1 287.1,667.9 290.7,671.5 291.6,675.1 283.5,674.2 279.9,676.0 280.8,679.7 283.5,681.4 286.2,682.3 285.3,686.9 286.2,689.6 286.2,697.3 284.4,697.3 283.0,701.8 279.0,705.8" fill="none" stroke="#505050" stroke-width="0.65" stroke-linejoin="round" />
<polyline points="319.6,657.5 317.4,664.3 319.6,670.6 316.0,674.2 312.4,678.7 311.5,684.2 313.3,689.6 310.6,693.2 308.8,694.5 307.0,696.8 308.8,697.3 307.9,702.7 310.6,707.2 308.8,711.7 308.8,713.5" fill="none" stroke="#505050" stroke-width="0.65" stroke-linejoin="round" />
<polyline points="285.3,719.0 291.6,717.6 298.0,714.5 307.0,707.2 308.8,710.8 308.8,713.5 314.2,715.3 317.4,717.6 319.6,712.6 326.0,709.9 322.3,705.4 320.5,702.7 324.6,700.4 329.6,700.0 336.8,700.0 340.4,703.1 344.9,701.8 348.6,700.9 350.8,703.6" fill="none" stroke="#505050" stroke-width="0.65" stroke-linejoin="round" />
<polyline points="339.5,657.9 338.6,663.4 333.2,667.0 331.4,672.4 335.9,676.0 339.5,679.7 343.1,680.1 343.6,686.0 348.6,686.9 355.8,682.3 357.6,689.6 353.1,695.0" fill="none" stroke="#505050" stroke-width="0.65" stroke-linejoin="round" />
<polyline points="334.3,656.9 339.5,657.9 346.8,656.1 354.0,653.4 357.6,652.5 359.4,655.2 360.3,657.0 364.8,655.2 368.4,651.6 372.1,650.7 375.7,649.8 379.3,655.2 381.1,658.9 390.2,658.9 401.0,659.7 406.4,662.5 413.7,662.9" fill="none" stroke="#505050" stroke-width="0.65" stroke-linejoin="round" />
<polyline points="413.7,662.9 411.8,655.2 410.0,646.2 410.5,634.9 401.0,634.0 395.6,633.1 395.6,629.2" fill="none" stroke="#505050" stroke-width="0.65" stroke-linejoin="round" />
<polyline points="421.5,556.1 418.5,565.9 389.4,585.7 407.9,601.1 422.2,604.1 429.5,615.9 440.6,622.0 450.5,620.1 453.0,620.1 454.2,616.9 489.4,617.7" fill="none" stroke="#505050" stroke-width="0.65" stroke-linejoin="round" />
<polyline points="407.9,601.1 407.4,617.1 395.0,625.2 396.5,629.5" fill="none" stroke="#505050" stroke-width="0.65" stroke-linejoin="round" />
<polygon points="334.1,656.9 336.4,644.5 332.2,639.8 330.3,618.6 317.0,505.9 343.6,505.9 421.5,556.1 440.0,567.2 440.6,573.3 448.0,576.4 449.9,579.5 456.6,581.3 459.8,584.4 469.0,586.3 473.2,589.3 473.2,596.1 470.8,599.9 474.6,601.6 489.5,599.2 489.5,628.0 489.6,629.2 489.1,633.6 486.9,635.3 486.4,644.4 485.1,650.7 482.4,654.3 477.8,657.9 475.1,659.3 458.8,659.7 451.6,660.2 442.6,661.1 437.1,665.2 432.6,665.6 428.1,665.2 424.5,665.2 419.1,663.8 415.5,664.7 413.7,662.9 409.1,663.8 405.5,667.0 401.0,668.4 388.3,672.4 386.5,676.9 381.1,678.7 377.5,680.5 374.8,686.0 371.2,686.9 369.4,692.3 364.8,693.7 359.4,690.5 356.7,691.4 353.0,695.0 354.0,697.3 353.5,701.3 350.4,703.6 351.3,707.2 347.7,711.7 338.6,714.0 337.3,716.3 338.2,721.6 336.8,726.2 334.1,729.8 334.6,735.2 333.2,737.9 328.2,737.9 325.5,741.6 323.3,740.6 322.3,733.4 320.5,733.4 315.6,735.2 314.6,738.8 310.6,739.8 309.7,742.0 308.8,741.1 305.6,740.6 302.5,737.9 298.0,737.9 295.2,741.6 289.8,737.0 288.0,728.4 283.5,728.4 287.5,723.9 285.3,722.1 280.8,718.9 279.0,709.0 276.2,705.8 272.6,705.8 272.2,707.6 265.9,712.2 256.4,709.9 250.9,714.5 246.4,710.4 241.9,712.6 238.3,709.9 239.6,706.3 239.2,697.3 234.7,691.4 231.5,689.6 229.3,686.0 230.6,683.2 229.7,678.7 227.0,673.3 227.0,669.7 231.5,666.1 232.9,662.5 234.7,656.9 238.7,654.8 243.7,658.9 247.8,662.9 250.5,658.1 260.0,659.3 265.9,658.9 271.1,657.2 271.1,655.2 272.6,654.3 273.1,657.2" fill="none" stroke="#505050" stroke-width="0.8"/>
<text x="255.2" y="651.7" font-size="5.2" fill="#999" font-weight="normal" text-anchor="start" >MAURITANIA</text>
<text x="490.0" y="659.5" font-size="5.2" fill="#999" font-weight="normal" text-anchor="start" >NIGER</text>
<text x="217.0" y="702.0" font-size="5.2" fill="#999" font-weight="normal" text-anchor="start" >SENEGAL</text>
<text x="242.5" y="735.5" font-size="5.2" fill="#999" font-weight="normal" text-anchor="start" >GUINEA</text>
<text x="300.5" y="753.0" font-size="5.2" fill="#999" font-weight="normal" text-anchor="start" >IVORY COAST</text>
<text x="352.5" y="718.8" font-size="5.2" fill="#999" font-weight="normal" text-anchor="start" >BURKINA FASO</text>
<text x="382.0" y="746.5" font-size="5.2" fill="#999" font-weight="normal" text-anchor="start" >GHANA</text>
</g>
<rect x="395.3" y="681.5" width="120.5" height="78.1" fill="#fff"/>
<clipPath id="fsr"><rect x="517.8" y="636.8" width="301.5" height="122.8"/></clipPath>
<clipPath id="msr"><polygon points="635.1,656.9 637.4,644.5 633.2,639.8 631.3,618.6 618.0,505.9 644.6,505.9 722.5,556.1 741.0,567.2 741.6,573.3 749.0,576.4 750.9,579.5 757.6,581.3 760.8,584.4 770.0,586.3 774.2,589.3 774.2,596.1 771.8,599.9 775.6,601.6 790.5,599.2 790.5,628.0 790.6,629.2 790.1,633.6 787.9,635.3 787.4,644.4 786.1,650.7 783.4,654.3 778.8,657.9 776.1,659.3 759.8,659.7 752.6,660.2 743.6,661.1 738.1,665.2 733.6,665.6 729.1,665.2 725.5,665.2 720.1,663.8 716.5,664.7 714.7,662.9 710.1,663.8 706.5,667.0 702.0,668.4 689.3,672.4 687.5,676.9 682.1,678.7 678.5,680.5 675.8,686.0 672.2,686.9 670.4,692.3 665.8,693.7 660.4,690.5 657.7,691.4 654.0,695.0 655.0,697.3 654.5,701.3 651.4,703.6 652.3,707.2 648.7,711.7 639.6,714.0 638.3,716.3 639.2,721.6 637.8,726.2 635.1,729.8 635.6,735.2 634.2,737.9 629.2,737.9 626.5,741.6 624.3,740.6 623.3,733.4 621.5,733.4 616.6,735.2 615.6,738.8 611.6,739.8 610.7,742.0 609.8,741.1 606.6,740.6 603.5,737.9 599.0,737.9 596.2,741.6 590.8,737.0 589.0,728.4 584.5,728.4 588.5,723.9 586.3,722.1 581.8,718.9 580.0,709.0 577.2,705.8 573.6,705.8 573.2,707.6 566.9,712.2 557.4,709.9 551.9,714.5 547.4,710.4 542.9,712.6 539.3,709.9 540.6,706.3 540.2,697.3 535.7,691.4 532.5,689.6 530.3,686.0 531.6,683.2 530.7,678.7 528.0,673.3 528.0,669.7 532.5,666.1 533.9,662.5 535.7,656.9 539.7,654.8 544.7,658.9 548.8,662.9 551.5,658.1 561.0,659.3 566.9,658.9 572.1,657.2 572.1,655.2 573.6,654.3 574.1,657.2"/></clipPath>
<g clip-path="url(#fsr)">
<rect x="517.8" y="636.8" width="301.5" height="122.8" fill="#dedede"/>
<g clip-path="url(#msr)">
<rect x="517.8" y="636.8" width="301.5" height="122.8" fill="#b2b2b2"/>
<g filter="url(#bl)">
<ellipse cx="541.0" cy="675.0" rx="9.0" ry="10.0" fill="#d0d0d0" opacity="1"/>
<ellipse cx="572.0" cy="695.0" rx="10.0" ry="10.0" fill="#dadada" opacity="1"/>
<ellipse cx="604.0" cy="666.0" rx="28.0" ry="9.0" fill="#5a5a5a" opacity="1"/>
<ellipse cx="640.0" cy="656.0" rx="16.0" ry="8.0" fill="#555" opacity="0.9"/>
<ellipse cx="643.0" cy="645.0" rx="11.0" ry="9.0" fill="#2a2a2a" opacity="1"/>
<ellipse cx="599.0" cy="704.0" rx="8.0" ry="7.0" fill="#fff" opacity="1"/>
<ellipse cx="630.0" cy="700.0" rx="13.0" ry="13.0" fill="#fff" opacity="1"/>
<ellipse cx="651.0" cy="676.0" rx="8.0" ry="9.0" fill="#f4f4f4" opacity="1"/>
<ellipse cx="627.0" cy="720.0" rx="8.0" ry="8.0" fill="#eee" opacity="1"/>
<ellipse cx="612.0" cy="690.0" rx="8.0" ry="7.0" fill="#e8e8e8" opacity="0.9"/>
<ellipse cx="594.0" cy="738.0" rx="5.0" ry="5.0" fill="#000" opacity="1"/>
<ellipse cx="611.0" cy="740.0" rx="22.0" ry="4.5" fill="#3a3a3a" opacity="1"/>
<ellipse cx="551.0" cy="711.0" rx="7.0" ry="4.0" fill="#505050" opacity="1"/>
<ellipse cx="531.0" cy="690.0" rx="4.0" ry="10.0" fill="#888" opacity="0.8"/>
<ellipse cx="688.0" cy="644.0" rx="10.0" ry="7.0" fill="#ddd" opacity="1"/>
<ellipse cx="720.0" cy="646.0" rx="12.0" ry="8.0" fill="#d0d0d0" opacity="0.9"/>
<ellipse cx="700.0" cy="660.0" rx="20.0" ry="8.0" fill="#9a9a9a" opacity="0.9"/>
<ellipse cx="752.0" cy="648.0" rx="10.0" ry="12.0" fill="#555" opacity="1"/>
<ellipse cx="778.0" cy="648.0" rx="10.0" ry="14.0" fill="#000" opacity="1"/>
<ellipse cx="668.0" cy="655.0" rx="10.0" ry="8.0" fill="#999" opacity="0.9"/>
<ellipse cx="625.0" cy="655.0" rx="10.0" ry="6.0" fill="#555" opacity="0.8"/>
<ellipse cx="735.0" cy="656.0" rx="28.0" ry="7.0" fill="#909090" opacity="0.8"/>
</g>
</g>
<g filter="url(#rag1n)">
<polyline points="514.9,659.7 518.5,662.9 523.0,664.7 525.7,667.9 528.0,669.7" fill="none" stroke="#858585" stroke-width="0.8" stroke-linejoin="round" />
<polyline points="512.2,705.8 518.5,705.8 523.0,706.8 526.6,707.6 532.9,706.3 540.2,705.8" fill="none" stroke="#858585" stroke-width="0.8" stroke-linejoin="round" />
<polyline points="514.0,762.4 520.3,752.4 523.9,746.5 532.9,745.2 543.8,744.7 549.7,752.4 555.6,762.4" fill="none" stroke="#858585" stroke-width="0.8" stroke-linejoin="round" />
<polyline points="592.2,762.4 592.6,752.4 592.6,746.1 596.2,741.6" fill="none" stroke="#858585" stroke-width="0.8" stroke-linejoin="round" />
<polyline points="634.2,737.9 639.6,740.6 643.2,746.1 645.9,748.8 649.6,749.7 653.2,751.1 655.0,747.9 663.1,745.6 671.2,746.5 674.9,749.7 676.7,752.4 679.9,759.6" fill="none" stroke="#858585" stroke-width="0.8" stroke-linejoin="round" />
<polyline points="680.3,760.6 679.4,752.4 677.6,742.4 678.5,737.9 675.8,733.4 677.6,728.9 702.0,728.7" fill="none" stroke="#858585" stroke-width="0.8" stroke-linejoin="round" />
<polyline points="726.0,665.3 727.9,676.1 733.9,686.1 739.7,692.0 741.7,690.9 749.7,699.8 757.5,705.7 761.4,711.7" fill="none" stroke="#858585" stroke-width="0.8" stroke-linejoin="round" />
<polyline points="761.4,711.7 767.4,707.7 779.3,715.7 781.2,727.5 783.2,735.3 779.3,747.1 775.3,756.1" fill="none" stroke="#858585" stroke-width="0.8" stroke-linejoin="round" />
<polyline points="799.9,685.0 791.0,690.0 787.1,701.8 781.2,715.7" fill="none" stroke="#858585" stroke-width="0.8" stroke-linejoin="round" />
<polyline points="761.4,711.7 761.4,719.6 749.7,725.5 735.8,729.4" fill="none" stroke="#858585" stroke-width="0.8" stroke-linejoin="round" />
<polyline points="701.9,728.1 722.0,727.5 735.8,729.4 741.7,743.3 749.7,756.1" fill="none" stroke="#858585" stroke-width="0.8" stroke-linejoin="round" />
<polyline points="722.0,727.5 726.0,737.3 728.9,747.1 727.9,756.1" fill="none" stroke="#858585" stroke-width="0.8" stroke-linejoin="round" />
<polyline points="624.9,492.7 644.6,505.9" fill="none" stroke="#858585" stroke-width="0.8" stroke-linejoin="round" />
<polyline points="790.6,599.4 799.8,597.4" fill="none" stroke="#858585" stroke-width="0.8" stroke-linejoin="round" />
</g>
<polyline points="548.8,662.9 546.5,666.1 549.2,670.6 549.7,675.1 547.4,680.5 539.3,684.2 535.7,687.8 532.5,689.6" fill="none" stroke="#505050" stroke-width="0.65" stroke-linejoin="round" />
<polyline points="539.3,684.2 544.7,690.5 547.4,695.0 549.2,697.3" fill="none" stroke="#505050" stroke-width="0.65" stroke-linejoin="round" />
<polyline points="549.2,670.6 557.4,671.5 561.0,670.6 566.4,667.0 570.9,667.9 571.8,664.3 568.2,662.5" fill="none" stroke="#505050" stroke-width="0.65" stroke-linejoin="round" />
<polyline points="561.0,670.6 561.0,678.7 564.6,676.0 575.4,675.1 580.9,676.0" fill="none" stroke="#505050" stroke-width="0.65" stroke-linejoin="round" />
<polyline points="561.0,678.7 562.8,686.0 564.6,687.8 561.0,691.4 557.4,697.3" fill="none" stroke="#505050" stroke-width="0.65" stroke-linejoin="round" />
<polyline points="592.6,675.1 599.0,676.0 609.8,677.8" fill="none" stroke="#505050" stroke-width="0.65" stroke-linejoin="round" />
<polyline points="599.0,676.0 599.0,682.3 600.8,686.9 599.0,690.5 597.1,697.3" fill="none" stroke="#505050" stroke-width="0.65" stroke-linejoin="round" />
<polyline points="577.2,657.9 579.0,666.1 584.5,667.9 588.1,667.9" fill="none" stroke="#505050" stroke-width="0.65" stroke-linejoin="round" />
<polyline points="549.2,697.3 551.9,700.0 559.2,700.9 559.2,706.3 557.4,709.9" fill="none" stroke="#505050" stroke-width="0.65" stroke-linejoin="round" />
<polyline points="580.0,707.2 586.3,709.0 589.9,712.6 591.7,718.1" fill="none" stroke="#505050" stroke-width="0.65" stroke-linejoin="round" />
<polyline points="592.6,717.6 591.7,720.8 597.1,724.4 599.8,728.0 599.0,733.4 597.1,737.0 599.0,737.9" fill="none" stroke="#505050" stroke-width="0.65" stroke-linejoin="round" />
<polyline points="608.0,707.2 608.9,711.7 609.8,713.5" fill="none" stroke="#505050" stroke-width="0.65" stroke-linejoin="round" />
<polyline points="609.8,723.5 613.4,724.4 617.9,722.6 618.4,717.6" fill="none" stroke="#505050" stroke-width="0.65" stroke-linejoin="round" />
<polyline points="617.9,722.6 620.6,727.1 623.3,730.7 623.3,733.4" fill="none" stroke="#505050" stroke-width="0.65" stroke-linejoin="round" />
<polyline points="623.3,730.7 630.6,728.9 635.1,729.8" fill="none" stroke="#505050" stroke-width="0.65" stroke-linejoin="round" />
<polyline points="627.0,709.9 633.3,713.5 638.7,715.3" fill="none" stroke="#505050" stroke-width="0.65" stroke-linejoin="round" />
<polyline points="641.4,703.1 643.2,706.3 640.5,709.9 639.6,714.0" fill="none" stroke="#505050" stroke-width="0.65" stroke-linejoin="round" />
<polyline points="609.8,675.1 613.4,676.9 616.1,673.7 623.3,674.7 624.3,680.5 627.0,683.2" fill="none" stroke="#505050" stroke-width="0.65" stroke-linejoin="round" />
<polyline points="632.4,672.4 630.6,676.9 627.9,681.4 627.0,683.2 620.6,686.0 617.0,691.4 617.9,695.0 623.3,694.5 625.1,691.4 631.5,690.5 639.6,687.8 644.6,686.0" fill="none" stroke="#505050" stroke-width="0.65" stroke-linejoin="round" />
<polyline points="641.4,661.5 649.6,662.5 652.3,665.2 658.6,662.5 661.7,663.4 661.3,657.0" fill="none" stroke="#505050" stroke-width="0.65" stroke-linejoin="round" />
<polyline points="652.3,665.2 655.0,670.6 647.8,673.3 645.9,678.7 644.1,680.1" fill="none" stroke="#505050" stroke-width="0.65" stroke-linejoin="round" />
<polyline points="661.7,663.4 662.2,667.9 660.4,673.3 657.7,678.7 656.8,682.3" fill="none" stroke="#505050" stroke-width="0.65" stroke-linejoin="round" />
<polyline points="662.2,667.9 671.2,665.2 672.2,667.9 676.7,668.8 672.2,673.3 669.4,678.7 665.8,679.7 667.6,682.3 670.4,686.0 670.4,692.3" fill="none" stroke="#505050" stroke-width="0.65" stroke-linejoin="round" />
<polyline points="660.4,680.5 665.8,679.7" fill="none" stroke="#505050" stroke-width="0.65" stroke-linejoin="round" />
<polyline points="676.7,668.8 682.1,669.7 687.5,672.4" fill="none" stroke="#505050" stroke-width="0.65" stroke-linejoin="round" />
<polyline points="665.8,648.4 676.7,647.6 677.6,649.4 676.7,649.8" fill="none" stroke="#505050" stroke-width="0.65" stroke-linejoin="round" />
<polyline points="656.8,650.7 665.8,648.4 674.9,643.5" fill="none" stroke="#505050" stroke-width="0.65" stroke-linejoin="round" />
<polyline points="668.6,629.2 671.6,639.0 681.2,638.1 683.0,633.6" fill="none" stroke="#505050" stroke-width="0.65" stroke-linejoin="round" />
<polyline points="713.7,657.0 726.4,652.1 731.8,646.2 743.6,635.3 746.3,629.2" fill="none" stroke="#505050" stroke-width="0.65" stroke-linejoin="round" />
<polyline points="711.5,638.1 720.1,638.9 729.1,629.2" fill="none" stroke="#505050" stroke-width="0.65" stroke-linejoin="round" />
<polyline points="743.6,635.3 746.8,641.7 745.4,648.9 746.3,650.7 744.5,655.2 743.6,661.1" fill="none" stroke="#505050" stroke-width="0.65" stroke-linejoin="round" />
<polyline points="726.4,652.1 730.0,657.9 733.6,663.4 733.2,665.6" fill="none" stroke="#505050" stroke-width="0.65" stroke-linejoin="round" />
<polyline points="620.9,530.3 668.6,629.1" fill="none" stroke="#505050" stroke-width="0.65" stroke-linejoin="round" />
<polyline points="744.7,576.4 745.3,596.1 737.9,602.3 736.8,609.7 730.5,615.2" fill="none" stroke="#505050" stroke-width="0.65" stroke-linejoin="round" />
<polyline points="745.3,596.1 750.9,603.5 758.9,603.5 760.1,599.9 767.5,601.6 771.8,599.9" fill="none" stroke="#505050" stroke-width="0.65" stroke-linejoin="round" />
<polyline points="750.9,603.5 754.0,613.4 754.5,617.1" fill="none" stroke="#505050" stroke-width="0.65" stroke-linejoin="round" />
<polyline points="751.5,620.1 746.5,628.2 745.7,629.6" fill="none" stroke="#505050" stroke-width="0.65" stroke-linejoin="round" />
<polyline points="751.5,620.8 730.5,625.7 728.7,629.6" fill="none" stroke="#505050" stroke-width="0.65" stroke-linejoin="round" />
<polyline points="577.2,657.9 580.9,659.7 582.7,662.5 587.2,666.1 588.1,667.9 591.7,671.5 592.6,675.1 584.5,674.2 580.9,676.0 581.8,679.7 584.5,681.4 587.2,682.3 586.3,686.9 587.2,689.6 587.2,697.3 585.4,697.3 584.0,701.8 580.0,705.8" fill="none" stroke="#505050" stroke-width="0.65" stroke-linejoin="round" />
<polyline points="620.6,657.5 618.4,664.3 620.6,670.6 617.0,674.2 613.4,678.7 612.5,684.2 614.3,689.6 611.6,693.2 609.8,694.5 608.0,696.8 609.8,697.3 608.9,702.7 611.6,707.2 609.8,711.7 609.8,713.5" fill="none" stroke="#505050" stroke-width="0.65" stroke-linejoin="round" />
<polyline points="586.3,719.0 592.6,717.6 599.0,714.5 608.0,707.2 609.8,710.8 609.8,713.5 615.2,715.3 618.4,717.6 620.6,712.6 627.0,709.9 623.3,705.4 621.5,702.7 625.6,700.4 630.6,700.0 637.8,700.0 641.4,703.1 645.9,701.8 649.6,700.9 651.8,703.6" fill="none" stroke="#505050" stroke-width="0.65" stroke-linejoin="round" />
<polyline points="640.5,657.9 639.6,663.4 634.2,667.0 632.4,672.4 636.9,676.0 640.5,679.7 644.1,680.1 644.6,686.0 649.6,686.9 656.8,682.3 658.6,689.6 654.1,695.0" fill="none" stroke="#505050" stroke-width="0.65" stroke-linejoin="round" />
<polyline points="635.3,656.9 640.5,657.9 647.8,656.1 655.0,653.4 658.6,652.5 660.4,655.2 661.3,657.0 665.8,655.2 669.4,651.6 673.1,650.7 676.7,649.8 680.3,655.2 682.1,658.9 691.2,658.9 702.0,659.7 707.4,662.5 714.7,662.9" fill="none" stroke="#505050" stroke-width="0.65" stroke-linejoin="round" />
<polyline points="714.7,662.9 712.8,655.2 711.0,646.2 711.5,634.9 702.0,634.0 696.6,633.1 696.6,629.2" fill="none" stroke="#505050" stroke-width="0.65" stroke-linejoin="round" />
<polyline points="722.5,556.1 719.5,565.9 690.4,585.7 708.9,601.1 723.2,604.1 730.5,615.9 741.6,622.0 751.5,620.1 754.0,620.1 755.2,616.9 790.4,617.7" fill="none" stroke="#505050" stroke-width="0.65" stroke-linejoin="round" />
<polyline points="708.9,601.1 708.4,617.1 696.0,625.2 697.5,629.5" fill="none" stroke="#505050" stroke-width="0.65" stroke-linejoin="round" />
<polygon points="635.1,656.9 637.4,644.5 633.2,639.8 631.3,618.6 618.0,505.9 644.6,505.9 722.5,556.1 741.0,567.2 741.6,573.3 749.0,576.4 750.9,579.5 757.6,581.3 760.8,584.4 770.0,586.3 774.2,589.3 774.2,596.1 771.8,599.9 775.6,601.6 790.5,599.2 790.5,628.0 790.6,629.2 790.1,633.6 787.9,635.3 787.4,644.4 786.1,650.7 783.4,654.3 778.8,657.9 776.1,659.3 759.8,659.7 752.6,660.2 743.6,661.1 738.1,665.2 733.6,665.6 729.1,665.2 725.5,665.2 720.1,663.8 716.5,664.7 714.7,662.9 710.1,663.8 706.5,667.0 702.0,668.4 689.3,672.4 687.5,676.9 682.1,678.7 678.5,680.5 675.8,686.0 672.2,686.9 670.4,692.3 665.8,693.7 660.4,690.5 657.7,691.4 654.0,695.0 655.0,697.3 654.5,701.3 651.4,703.6 652.3,707.2 648.7,711.7 639.6,714.0 638.3,716.3 639.2,721.6 637.8,726.2 635.1,729.8 635.6,735.2 634.2,737.9 629.2,737.9 626.5,741.6 624.3,740.6 623.3,733.4 621.5,733.4 616.6,735.2 615.6,738.8 611.6,739.8 610.7,742.0 609.8,741.1 606.6,740.6 603.5,737.9 599.0,737.9 596.2,741.6 590.8,737.0 589.0,728.4 584.5,728.4 588.5,723.9 586.3,722.1 581.8,718.9 580.0,709.0 577.2,705.8 573.6,705.8 573.2,707.6 566.9,712.2 557.4,709.9 551.9,714.5 547.4,710.4 542.9,712.6 539.3,709.9 540.6,706.3 540.2,697.3 535.7,691.4 532.5,689.6 530.3,686.0 531.6,683.2 530.7,678.7 528.0,673.3 528.0,669.7 532.5,666.1 533.9,662.5 535.7,656.9 539.7,654.8 544.7,658.9 548.8,662.9 551.5,658.1 561.0,659.3 566.9,658.9 572.1,657.2 572.1,655.2 573.6,654.3 574.1,657.2" fill="none" stroke="#505050" stroke-width="0.8"/>
<text x="555.2" y="646.6" font-size="5.2" fill="#999" font-weight="normal" text-anchor="start" >MAURITANIA</text>
<text x="791.0" y="659.5" font-size="5.2" fill="#999" font-weight="normal" text-anchor="start" >NIGER</text>
<text x="518.0" y="702.0" font-size="5.2" fill="#999" font-weight="normal" text-anchor="start" >SENEGAL</text>
<text x="546.0" y="728.7" font-size="5.2" fill="#999" font-weight="normal" text-anchor="start" >GUINEA</text>
<text x="601.5" y="753.0" font-size="5.2" fill="#999" font-weight="normal" text-anchor="start" >IVORY COAST</text>
<text x="653.5" y="718.8" font-size="5.2" fill="#999" font-weight="normal" text-anchor="start" >BURKINA FASO</text>
<text x="683.0" y="746.5" font-size="5.2" fill="#999" font-weight="normal" text-anchor="start" >GHANA</text>
</g>
<rect x="685.0" y="681.5" width="134.3" height="78.1" fill="#fff"/>
<text x="401.8" y="695.7" font-size="10.4" fill="#555" font-weight="normal" text-anchor="start" >Average Predicted Error</text>
<text x="401.8" y="707.5" font-size="10.4" fill="#555" font-weight="normal" text-anchor="start" >for DHS Variables</text>
<rect x="402.2" y="724.9" width="34.3" height="26.5" fill="url(#bw)"/>
<text x="447.8" y="728.9" font-size="10.2" fill="#555" font-weight="normal" text-anchor="start" >0.95</text>
<text x="447.8" y="756.8" font-size="10.2" fill="#555" font-weight="normal" text-anchor="start" >0.27</text>
<path d="M437.2 724.8h2M437.2 737.8h2M437.2 750.8h2" stroke="#999" stroke-width="0.6"/>
<text x="690.7" y="695.7" font-size="10.4" fill="#555" font-weight="normal" text-anchor="start" >Average Standard Error for</text>
<text x="690.7" y="707.5" font-size="10.4" fill="#555" font-weight="normal" text-anchor="start" >Temperature and Rainfall</text>
<rect x="691.1" y="724.9" width="34.3" height="26.5" fill="url(#bw)"/>
<text x="736.7" y="728.9" font-size="10.2" fill="#555" font-weight="normal" text-anchor="start" >0.26</text>
<text x="736.7" y="756.8" font-size="10.2" fill="#555" font-weight="normal" text-anchor="start" >0.13</text>
<path d="M726.1 724.8h2M726.1 737.8h2M726.1 750.8h2" stroke="#999" stroke-width="0.6"/>
<rect x="216" y="636.2" width="603.3" height="1.1" fill="#fff"/>
<rect x="515.8" y="636.8" width="2" height="123" fill="#fff"/>
<rect x="216" y="368.2" width="603.3" height="392.2" fill="none" stroke="#8c8c8c" stroke-width="1.2"/>
</svg></body></html>
